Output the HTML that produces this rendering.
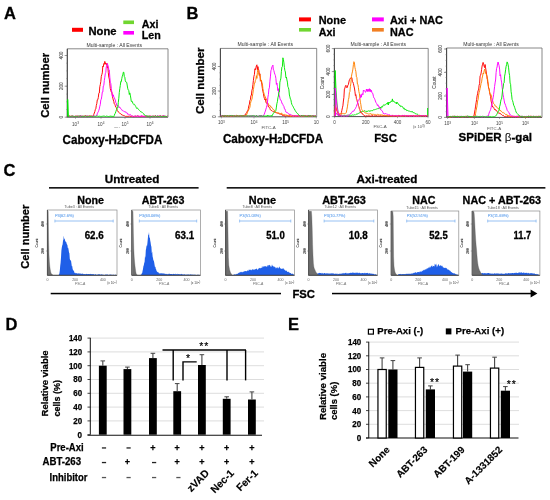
<!DOCTYPE html>
<html><head><meta charset="utf-8"><style>
html,body{margin:0;padding:0;background:#fff;width:550px;height:500px;overflow:hidden}
svg{display:block;filter:blur(0.3px)}
text{font-family:"Liberation Sans", sans-serif}
</style></head><body>
<svg width="550" height="500" viewBox="0 0 550 500">
<rect width="550" height="500" fill="#fff"/>
<text x="4.0" y="18.8" font-size="16.5" font-weight="bold" text-anchor="start" fill="#000" stroke="#000" stroke-width="0.3" >A</text>
<text x="186.5" y="19" font-size="16.5" font-weight="bold" text-anchor="start" fill="#000" stroke="#000" stroke-width="0.3" >B</text>
<text x="3.5" y="176" font-size="16.5" font-weight="bold" text-anchor="start" fill="#000" stroke="#000" stroke-width="0.3" >C</text>
<text x="5.5" y="329.5" font-size="16.5" font-weight="bold" text-anchor="start" fill="#000" stroke="#000" stroke-width="0.3" >D</text>
<text x="288" y="329.5" font-size="16.5" font-weight="bold" text-anchor="start" fill="#000" stroke="#000" stroke-width="0.3" >E</text>
<rect x="72" y="27.8" width="11" height="4" fill="#ff0000"/>
<text x="88.5" y="34.5" font-size="11.4" font-weight="bold" text-anchor="start" fill="#000" stroke="#000" stroke-width="0.3" textLength="28" lengthAdjust="spacingAndGlyphs" >None</text>
<rect x="123.3" y="20.5" width="10.7" height="3.6" fill="#70d630"/>
<text x="141.8" y="28.2" font-size="11.4" font-weight="bold" text-anchor="start" fill="#000" stroke="#000" stroke-width="0.3" textLength="16.7" lengthAdjust="spacingAndGlyphs" >Axi</text>
<rect x="123.3" y="31" width="10.7" height="3.6" fill="#ff00ff"/>
<text x="141.8" y="39" font-size="11.4" font-weight="bold" text-anchor="start" fill="#000" stroke="#000" stroke-width="0.3" textLength="19" lengthAdjust="spacingAndGlyphs" >Len</text>
<text x="114.2" y="46.5" font-size="5.1" font-weight="normal" text-anchor="middle" fill="#333">Multi-sample : All Events</text>
<polyline points="67.3,117.2 67.3,48.8 168,48.8 168,117.2" fill="none" stroke="#6a6a6a" stroke-width="0.8"/>
<polyline points="67.3,48.8 67.3,117.2 168,117.2" fill="none" stroke="#3a3a3a" stroke-width="0.9"/>
<line x1="64.7" y1="55.5" x2="67.3" y2="55.5" stroke="#555" stroke-width="0.6"/>
<text transform="translate(63.099999999999994,55.5) rotate(-90)" font-size="4.6" text-anchor="middle" fill="#555" stroke="#555" stroke-width="0.12">400</text>
<line x1="64.7" y1="86.2" x2="67.3" y2="86.2" stroke="#555" stroke-width="0.6"/>
<text transform="translate(63.099999999999994,86.2) rotate(-90)" font-size="4.6" text-anchor="middle" fill="#555" stroke="#555" stroke-width="0.12">200</text>
<line x1="64.7" y1="117.2" x2="67.3" y2="117.2" stroke="#555" stroke-width="0.6"/>
<text transform="translate(63.099999999999994,117.2) rotate(-90)" font-size="4.6" text-anchor="middle" fill="#555" stroke="#555" stroke-width="0.12">0</text>
<line x1="66.0" y1="117.2" x2="67.3" y2="117.2" stroke="#777" stroke-width="0.4"/>
<line x1="66.0" y1="109.5" x2="67.3" y2="109.5" stroke="#777" stroke-width="0.4"/>
<line x1="66.0" y1="101.8" x2="67.3" y2="101.8" stroke="#777" stroke-width="0.4"/>
<line x1="66.0" y1="94.1" x2="67.3" y2="94.1" stroke="#777" stroke-width="0.4"/>
<line x1="66.0" y1="86.3" x2="67.3" y2="86.3" stroke="#777" stroke-width="0.4"/>
<line x1="66.0" y1="78.6" x2="67.3" y2="78.6" stroke="#777" stroke-width="0.4"/>
<line x1="66.0" y1="70.9" x2="67.3" y2="70.9" stroke="#777" stroke-width="0.4"/>
<line x1="66.0" y1="63.2" x2="67.3" y2="63.2" stroke="#777" stroke-width="0.4"/>
<line x1="66.0" y1="55.5" x2="67.3" y2="55.5" stroke="#777" stroke-width="0.4"/>
<line x1="75.5" y1="117.2" x2="75.5" y2="118.8" stroke="#666" stroke-width="0.5"/>
<text x="75.5" y="125.6" font-size="4.6" font-weight="normal" text-anchor="middle" fill="#444">10<tspan font-size="3.2" dy="-1.5">3</tspan></text>
<line x1="101" y1="117.2" x2="101" y2="118.8" stroke="#666" stroke-width="0.5"/>
<text x="101" y="125.6" font-size="4.6" font-weight="normal" text-anchor="middle" fill="#444">10<tspan font-size="3.2" dy="-1.5">4</tspan></text>
<line x1="125" y1="117.2" x2="125" y2="118.8" stroke="#666" stroke-width="0.5"/>
<text x="125" y="125.6" font-size="4.6" font-weight="normal" text-anchor="middle" fill="#444">10<tspan font-size="3.2" dy="-1.5">5</tspan></text>
<line x1="150" y1="117.2" x2="150" y2="118.8" stroke="#666" stroke-width="0.5"/>
<text x="150" y="125.6" font-size="4.6" font-weight="normal" text-anchor="middle" fill="#444">10<tspan font-size="3.2" dy="-1.5">6</tspan></text>
<text x="117" y="127.6" font-size="2.8" font-weight="normal" text-anchor="middle" fill="#999">▪▪▪▪ ▪</text>
<text transform="translate(48.8,117.8) rotate(-90)" font-size="11.0" font-weight="bold" text-anchor="start" fill="#000" stroke="#000" stroke-width="0.3" textLength="64.8" lengthAdjust="spacingAndGlyphs">Cell number</text>
<text x="62.6" y="143.5" font-size="12" font-weight="bold" text-anchor="start" fill="#000" stroke="#000" stroke-width="0.3" textLength="99.8" lengthAdjust="spacingAndGlyphs" >Caboxy-H<tspan font-size="8.8">2</tspan>DCFDA</text>
<polyline points="67.8,116.6 68.3,116.4 68.8,116.3 69.3,115.8 69.8,116.2 70.3,116.2 70.8,116.3 71.3,116.1 71.8,116.3 72.3,116.2 72.8,115.9 73.3,116.6 73.8,116.6 74.3,116.6 74.8,116.3 75.3,116.2 75.8,116.1 76.3,115.9 76.8,116.6 77.3,116.0 77.8,116.0 78.3,116.2 78.8,116.6 79.3,116.4 79.8,116.0 80.3,116.1 80.8,116.5 81.3,116.3 81.8,116.1 82.3,116.2 82.8,116.5 83.3,116.6 83.8,115.9 84.3,116.1 84.8,116.1 85.3,115.6 85.8,116.0 86.3,116.0 86.8,116.6 87.3,116.3 87.8,115.8 88.3,116.5 88.8,116.2 89.3,115.8 89.8,116.1 90.3,116.1 90.8,116.1 91.3,116.3 91.8,115.7 92.3,116.2 92.8,116.6 93.3,115.7 93.8,114.4 94.3,113.0 94.8,111.7 95.3,109.6 95.8,108.9 96.3,105.5 96.8,103.5 97.3,99.8 97.8,99.7 98.3,97.5 98.8,93.3 99.3,93.0 99.8,86.7 100.3,84.6 100.8,81.5 101.3,76.4 101.8,74.7 102.3,72.9 102.8,66.1 103.3,66.8 103.8,63.6 104.3,64.3 104.8,61.4 105.3,63.0 105.8,64.3 106.3,64.7 106.8,63.3 107.3,67.5 107.8,66.6 108.3,72.7 108.8,77.2 109.3,79.0 109.8,83.8 110.3,88.6 110.8,90.6 111.3,92.0 111.8,91.7 112.3,95.8 112.8,98.1 113.3,100.0 113.8,101.6 114.3,103.9 114.8,104.4 115.3,105.7 115.8,107.2 116.3,107.6 116.8,108.9 117.3,110.8 117.8,111.4 118.3,111.5 118.8,112.3 119.3,112.9 119.8,113.5 120.3,113.6 120.8,113.8 121.3,114.2 121.8,115.0 122.3,115.2 122.8,115.1 123.3,115.4 123.8,115.5 124.3,116.0 124.8,115.7 125.3,116.2 125.8,116.5 126.3,116.4 126.8,116.1 127.3,116.6 127.8,116.1 128.3,116.4 128.8,116.1 129.3,115.8 129.8,116.4 130.3,116.4 130.8,116.3 131.3,116.4 131.8,116.1 132.3,116.1 132.8,116.3 133.3,116.6 133.8,116.5 134.3,116.2 134.8,116.5 135.3,116.2 135.8,116.2 136.3,116.5 136.8,116.1 137.3,115.8 137.8,116.0 138.3,116.3 138.8,116.3 139.3,116.6 139.8,116.1 140.3,116.5 140.8,116.4 141.3,116.3 141.8,116.5 142.3,116.4 142.8,116.1 143.3,116.6 143.8,116.0 144.3,116.3 144.8,116.3 145.3,116.4 145.8,116.1 146.3,116.3 146.8,116.3 147.3,116.6 147.8,116.1 148.3,116.3 148.8,116.2 149.3,115.9 149.8,116.6 150.3,116.3 150.8,115.9 151.3,116.6 151.8,116.0 152.3,116.4 152.8,116.5 153.3,116.1 153.8,116.2 154.3,116.1 154.8,116.3 155.3,115.8 155.8,115.9 156.3,116.3 156.8,116.6 157.3,116.5 157.8,116.6 158.3,116.5 158.8,116.2 159.3,116.3 159.8,115.7 160.3,116.0 160.8,116.0 161.3,116.4 161.8,116.5 162.3,116.1 162.8,116.1 163.3,115.9 163.8,116.3 164.3,116.4 164.8,116.4 165.3,116.1 165.8,116.6 166.3,116.6 166.8,116.3 167.3,116.1" fill="none" stroke="#ff0000" stroke-width="0.95" stroke-linejoin="round"/>
<polyline points="67.8,116.2 68.3,116.3 68.8,116.3 69.3,116.4 69.8,116.5 70.3,116.6 70.8,116.6 71.3,116.3 71.8,116.4 72.3,116.2 72.8,116.1 73.3,116.6 73.8,116.2 74.3,116.6 74.8,116.2 75.3,116.4 75.8,116.6 76.3,116.3 76.8,116.4 77.3,116.2 77.8,116.2 78.3,116.3 78.8,116.1 79.3,116.6 79.8,116.3 80.3,116.6 80.8,115.5 81.3,116.3 81.8,116.5 82.3,116.2 82.8,116.6 83.3,116.5 83.8,116.2 84.3,116.4 84.8,116.6 85.3,116.4 85.8,116.4 86.3,116.2 86.8,116.3 87.3,115.9 87.8,116.2 88.3,116.6 88.8,116.6 89.3,116.5 89.8,116.6 90.3,116.6 90.8,116.5 91.3,116.6 91.8,116.6 92.3,116.3 92.8,116.6 93.3,115.6 93.8,116.1 94.3,116.4 94.8,116.0 95.3,116.3 95.8,116.1 96.3,115.5 96.8,115.4 97.3,113.7 97.8,112.5 98.3,111.8 98.8,110.3 99.3,108.9 99.8,106.2 100.3,104.6 100.8,99.9 101.3,99.2 101.8,96.1 102.3,92.1 102.8,92.0 103.3,85.9 103.8,85.6 104.3,80.6 104.8,77.3 105.3,73.7 105.8,72.4 106.3,66.5 106.8,66.7 107.3,63.4 107.8,65.0 108.3,66.7 108.8,69.8 109.3,70.0 109.8,77.1 110.3,82.3 110.8,83.5 111.3,88.3 111.8,92.6 112.3,95.0 112.8,96.9 113.3,94.8 113.8,96.8 114.3,97.7 114.8,99.0 115.3,100.0 115.8,102.8 116.3,103.1 116.8,105.7 117.3,105.8 117.8,105.2 118.3,105.8 118.8,106.5 119.3,108.0 119.8,107.4 120.3,107.7 120.8,108.8 121.3,109.4 121.8,109.6 122.3,110.7 122.8,110.6 123.3,111.0 123.8,111.0 124.3,111.5 124.8,111.8 125.3,111.6 125.8,112.6 126.3,112.4 126.8,113.2 127.3,113.1 127.8,114.4 128.3,114.2 128.8,114.6 129.3,114.9 129.8,114.4 130.3,114.4 130.8,115.2 131.3,115.8 131.8,115.8 132.3,116.2 132.8,116.5 133.3,115.9 133.8,116.4 134.3,116.6 134.8,116.1 135.3,115.7 135.8,116.2 136.3,116.2 136.8,116.4 137.3,116.0 137.8,116.3 138.3,115.7 138.8,116.5 139.3,116.6 139.8,116.6 140.3,115.9 140.8,116.4 141.3,115.4 141.8,116.4 142.3,116.3 142.8,116.0 143.3,116.4 143.8,116.3 144.3,116.6 144.8,116.3 145.3,116.4 145.8,115.7 146.3,116.0 146.8,116.2 147.3,116.4 147.8,116.3 148.3,116.6 148.8,116.1 149.3,116.2 149.8,116.4 150.3,116.2 150.8,116.4 151.3,116.1 151.8,116.6 152.3,116.2 152.8,116.6 153.3,116.3 153.8,116.6 154.3,115.9 154.8,116.4 155.3,116.2 155.8,116.4 156.3,116.6 156.8,116.0 157.3,115.9 157.8,116.0 158.3,116.4 158.8,115.8 159.3,116.3 159.8,115.9 160.3,116.0 160.8,116.2 161.3,116.4 161.8,116.1 162.3,116.2 162.8,116.3 163.3,116.2 163.8,115.5 164.3,116.2 164.8,116.3 165.3,116.6 165.8,116.6 166.3,116.5 166.8,116.3 167.3,116.0" fill="none" stroke="#ff00ff" stroke-width="0.95" stroke-linejoin="round"/>
<polyline points="67.7,116.3 67.7,99.4 68.4,116.3" fill="none" stroke="#00e800" stroke-width="0.95"/>
<polyline points="67.8,116.3 68.3,116.5 68.8,116.6 69.3,116.0 69.8,116.4 70.3,116.5 70.8,116.6 71.3,116.4 71.8,116.1 72.3,116.1 72.8,116.2 73.3,116.1 73.8,116.5 74.3,116.6 74.8,116.5 75.3,116.6 75.8,116.2 76.3,116.4 76.8,116.2 77.3,116.3 77.8,116.6 78.3,116.3 78.8,115.8 79.3,116.2 79.8,116.1 80.3,115.9 80.8,116.1 81.3,116.6 81.8,116.6 82.3,116.2 82.8,116.6 83.3,116.6 83.8,116.0 84.3,116.3 84.8,116.3 85.3,116.3 85.8,115.8 86.3,116.2 86.8,116.6 87.3,116.6 87.8,116.6 88.3,116.2 88.8,116.6 89.3,116.5 89.8,115.9 90.3,116.5 90.8,116.2 91.3,116.4 91.8,116.3 92.3,116.6 92.8,116.4 93.3,116.2 93.8,116.6 94.3,116.4 94.8,116.2 95.3,116.6 95.8,116.2 96.3,116.1 96.8,116.1 97.3,115.9 97.8,116.1 98.3,116.6 98.8,116.0 99.3,116.3 99.8,116.0 100.3,116.1 100.8,116.6 101.3,116.6 101.8,116.1 102.3,116.3 102.8,116.1 103.3,116.1 103.8,116.0 104.3,116.0 104.8,116.4 105.3,116.5 105.8,116.4 106.3,116.3 106.8,115.9 107.3,116.3 107.8,116.0 108.3,116.6 108.8,116.5 109.3,116.5 109.8,116.2 110.3,115.8 110.8,116.6 111.3,116.6 111.8,115.9 112.3,116.3 112.8,116.6 113.3,116.0 113.8,116.6 114.3,115.4 114.8,113.9 115.3,113.3 115.8,111.7 116.3,110.2 116.8,109.4 117.3,106.9 117.8,107.4 118.3,102.4 118.8,98.3 119.3,92.5 119.8,88.6 120.3,85.4 120.8,81.4 121.3,81.7 121.8,78.5 122.3,76.2 122.8,75.0 123.3,72.2 123.8,72.2 124.3,76.5 124.8,77.1 125.3,80.8 125.8,81.9 126.3,82.0 126.8,82.8 127.3,86.0 127.8,88.8 128.3,90.1 128.8,90.6 129.3,94.5 129.8,92.9 130.3,95.1 130.8,98.1 131.3,101.5 131.8,101.5 132.3,101.4 132.8,103.2 133.3,103.8 133.8,104.6 134.3,104.3 134.8,104.7 135.3,105.8 135.8,106.6 136.3,107.7 136.8,108.5 137.3,107.8 137.8,108.6 138.3,109.3 138.8,109.6 139.3,110.3 139.8,110.8 140.3,111.2 140.8,111.9 141.3,112.0 141.8,112.2 142.3,112.5 142.8,113.1 143.3,113.5 143.8,113.8 144.3,114.9 144.8,115.3 145.3,115.5 145.8,115.9 146.3,115.8 146.8,116.0 147.3,116.6 147.8,115.7 148.3,116.3 148.8,116.5 149.3,116.3 149.8,116.2 150.3,116.5 150.8,116.0 151.3,116.5 151.8,116.6 152.3,116.0 152.8,116.1 153.3,116.3 153.8,116.6 154.3,116.6 154.8,116.5 155.3,116.1 155.8,116.0 156.3,116.4 156.8,116.4 157.3,116.0 157.8,116.3 158.3,116.4 158.8,116.6 159.3,116.0 159.8,116.5 160.3,116.0 160.8,116.2 161.3,116.3 161.8,116.6 162.3,116.6 162.8,116.4 163.3,116.4 163.8,116.6 164.3,115.9 164.8,116.5 165.3,115.9 165.8,116.6 166.3,116.6 166.8,116.4 167.3,116.1" fill="none" stroke="#00e800" stroke-width="0.95" stroke-linejoin="round"/>
<rect x="299" y="17.4" width="12" height="4" fill="#ff0000"/>
<text x="318.7" y="24" font-size="11.4" font-weight="bold" text-anchor="start" fill="#000" stroke="#000" stroke-width="0.3" textLength="27.3" lengthAdjust="spacingAndGlyphs" >None</text>
<rect x="299" y="28" width="12" height="3.6" fill="#70d630"/>
<text x="318.7" y="36.4" font-size="11.4" font-weight="bold" text-anchor="start" fill="#000" stroke="#000" stroke-width="0.3" textLength="16.7" lengthAdjust="spacingAndGlyphs" >Axi</text>
<rect x="372" y="17.4" width="11.8" height="4" fill="#ff00ff"/>
<text x="390" y="24" font-size="11.4" font-weight="bold" text-anchor="start" fill="#000" stroke="#000" stroke-width="0.3" textLength="53" lengthAdjust="spacingAndGlyphs" >Axi + NAC</text>
<rect x="372" y="28" width="11.8" height="3.6" fill="#f27f22"/>
<text x="390" y="36.4" font-size="11.4" font-weight="bold" text-anchor="start" fill="#000" stroke="#000" stroke-width="0.3" textLength="23.5" lengthAdjust="spacingAndGlyphs" >NAC</text>
<text transform="translate(203.9,114.1) rotate(-90)" font-size="11.2" font-weight="bold" text-anchor="start" fill="#000" stroke="#000" stroke-width="0.3" textLength="66.5" lengthAdjust="spacingAndGlyphs">Cell number</text>
<text x="222.9" y="143.4" font-size="12" font-weight="bold" text-anchor="start" fill="#000" stroke="#000" stroke-width="0.3" textLength="100.2" lengthAdjust="spacingAndGlyphs" >Caboxy-H<tspan font-size="8.8">2</tspan>DCFDA</text>
<text x="374.2" y="141.9" font-size="11.6" font-weight="bold" text-anchor="start" fill="#000" stroke="#000" stroke-width="0.3" textLength="22.6" lengthAdjust="spacingAndGlyphs" >FSC</text>
<text x="458.6" y="141.0" font-size="11.4" font-weight="bold" text-anchor="start" fill="#000" stroke="#000" stroke-width="0.3" textLength="73.5" lengthAdjust="spacingAndGlyphs" >SPiDER <tspan font-weight="normal" stroke-width="0">β</tspan>-gal</text>
<text x="265.3" y="46.1" font-size="5.1" font-weight="normal" text-anchor="middle" fill="#333">Multi-sample : All Events</text>
<polyline points="220.4,116.8 220.4,48.4 316.7,48.4 316.7,116.8" fill="none" stroke="#6a6a6a" stroke-width="0.8"/>
<polyline points="220.4,48.4 220.4,116.8 316.7,116.8" fill="none" stroke="#3a3a3a" stroke-width="0.9"/>
<line x1="217.8" y1="66.5" x2="220.4" y2="66.5" stroke="#555" stroke-width="0.6"/>
<text transform="translate(216.20000000000002,66.5) rotate(-90)" font-size="4.6" text-anchor="middle" fill="#555" stroke="#555" stroke-width="0.12">400</text>
<line x1="217.8" y1="91" x2="220.4" y2="91" stroke="#555" stroke-width="0.6"/>
<text transform="translate(216.20000000000002,91) rotate(-90)" font-size="4.6" text-anchor="middle" fill="#555" stroke="#555" stroke-width="0.12">200</text>
<line x1="217.8" y1="116.8" x2="220.4" y2="116.8" stroke="#555" stroke-width="0.6"/>
<text transform="translate(216.20000000000002,116.8) rotate(-90)" font-size="4.6" text-anchor="middle" fill="#555" stroke="#555" stroke-width="0.12">0</text>
<line x1="219.1" y1="116.8" x2="220.4" y2="116.8" stroke="#777" stroke-width="0.4"/>
<line x1="219.1" y1="110.5" x2="220.4" y2="110.5" stroke="#777" stroke-width="0.4"/>
<line x1="219.1" y1="104.2" x2="220.4" y2="104.2" stroke="#777" stroke-width="0.4"/>
<line x1="219.1" y1="97.9" x2="220.4" y2="97.9" stroke="#777" stroke-width="0.4"/>
<line x1="219.1" y1="91.7" x2="220.4" y2="91.7" stroke="#777" stroke-width="0.4"/>
<line x1="219.1" y1="85.4" x2="220.4" y2="85.4" stroke="#777" stroke-width="0.4"/>
<line x1="219.1" y1="79.1" x2="220.4" y2="79.1" stroke="#777" stroke-width="0.4"/>
<line x1="219.1" y1="72.8" x2="220.4" y2="72.8" stroke="#777" stroke-width="0.4"/>
<line x1="219.1" y1="66.5" x2="220.4" y2="66.5" stroke="#777" stroke-width="0.4"/>
<line x1="221.4" y1="116.8" x2="221.4" y2="118.39999999999999" stroke="#666" stroke-width="0.5"/>
<text x="221.4" y="124.0" font-size="4.6" font-weight="normal" text-anchor="middle" fill="#444">10<tspan font-size="3.2" dy="-1.5">3</tspan></text>
<line x1="254" y1="116.8" x2="254" y2="118.39999999999999" stroke="#666" stroke-width="0.5"/>
<text x="254" y="124.0" font-size="4.6" font-weight="normal" text-anchor="middle" fill="#444">10<tspan font-size="3.2" dy="-1.5">4</tspan></text>
<line x1="285.7" y1="116.8" x2="285.7" y2="118.39999999999999" stroke="#666" stroke-width="0.5"/>
<text x="285.7" y="124.0" font-size="4.6" font-weight="normal" text-anchor="middle" fill="#444">10<tspan font-size="3.2" dy="-1.5">5</tspan></text>
<line x1="316.3" y1="116.8" x2="316.3" y2="118.39999999999999" stroke="#666" stroke-width="0.5"/>
<text x="316.3" y="124.0" font-size="4.6" font-weight="normal" text-anchor="middle" fill="#444">10</text>
<text x="268.6" y="128.6" font-size="4.4" font-weight="normal" text-anchor="middle" fill="#555">FITC-A</text>
<polyline points="220.9,116.3 221.4,116.1 221.9,116.0 222.4,116.2 222.9,115.5 223.4,116.1 223.9,116.3 224.4,116.1 224.9,116.0 225.4,115.7 225.9,116.2 226.4,116.1 226.9,116.0 227.4,115.8 227.9,116.2 228.4,116.3 228.9,116.1 229.4,116.3 229.9,116.3 230.4,116.3 230.9,116.1 231.4,115.9 231.9,115.9 232.4,116.0 232.9,116.2 233.4,116.3 233.9,115.9 234.4,116.0 234.9,115.7 235.4,116.3 235.9,115.9 236.4,116.1 236.9,115.8 237.4,115.9 237.9,115.8 238.4,116.3 238.9,116.1 239.4,116.0 239.9,115.7 240.4,115.8 240.9,116.2 241.4,116.3 241.9,115.6 242.4,115.7 242.9,115.9 243.4,115.8 243.9,115.5 244.4,116.0 244.9,115.5 245.4,114.0 245.9,113.7 246.4,113.0 246.9,112.2 247.4,110.9 247.9,110.9 248.4,108.4 248.9,105.5 249.4,104.2 249.9,100.5 250.4,99.8 250.9,95.5 251.4,95.3 251.9,90.3 252.4,88.8 252.9,84.6 253.4,80.5 253.9,76.3 254.4,74.6 254.9,68.8 255.4,69.7 255.9,67.7 256.4,65.8 256.9,64.8 257.4,69.9 257.9,66.6 258.4,68.8 258.9,70.6 259.4,75.4 259.9,73.8 260.4,81.2 260.9,80.5 261.4,80.9 261.9,84.9 262.4,88.5 262.9,91.4 263.4,93.5 263.9,96.8 264.4,98.4 264.9,99.9 265.4,99.1 265.9,102.0 266.4,103.3 266.9,103.1 267.4,103.2 267.9,104.4 268.4,106.9 268.9,106.6 269.4,107.5 269.9,108.4 270.4,109.8 270.9,110.3 271.4,110.5 271.9,110.5 272.4,111.1 272.9,111.6 273.4,111.5 273.9,112.0 274.4,112.0 274.9,112.1 275.4,112.3 275.9,112.5 276.4,113.0 276.9,113.0 277.4,112.9 277.9,113.3 278.4,113.4 278.9,113.8 279.4,113.9 279.9,114.2 280.4,113.8 280.9,114.5 281.4,115.0 281.9,114.4 282.4,115.5 282.9,115.3 283.4,115.3 283.9,115.1 284.4,116.1 284.9,115.7 285.4,115.9 285.9,116.2 286.4,115.7 286.9,115.7 287.4,115.7 287.9,116.0 288.4,116.2 288.9,116.1 289.4,116.1 289.9,115.9 290.4,116.0 290.9,115.8 291.4,116.3 291.9,116.1 292.4,115.4 292.9,115.7 293.4,116.3 293.9,115.6 294.4,115.9 294.9,116.1 295.4,115.7 295.9,116.3 296.4,116.3 296.9,115.8 297.4,116.3 297.9,115.7 298.4,115.7 298.9,116.1 299.4,116.1 299.9,115.8 300.4,116.2 300.9,115.6 301.4,115.8 301.9,115.7 302.4,116.2 302.9,116.2 303.4,116.2 303.9,115.6 304.4,116.0 304.9,116.1 305.4,115.5 305.9,115.8 306.4,116.2 306.9,116.2 307.4,116.1 307.9,116.2 308.4,116.1 308.9,116.0 309.4,116.0 309.9,115.8 310.4,115.9 310.9,115.9 311.4,116.3 311.9,116.1 312.4,116.0 312.9,115.9 313.4,116.0 313.9,115.9 314.4,116.2 314.9,116.0 315.4,116.2 315.9,115.8" fill="none" stroke="#ff0000" stroke-width="0.95" stroke-linejoin="round"/>
<polyline points="220.9,116.1 221.4,116.3 221.9,115.7 222.4,116.0 222.9,116.1 223.4,115.9 223.9,115.9 224.4,115.5 224.9,116.3 225.4,115.7 225.9,115.6 226.4,116.2 226.9,115.5 227.4,116.3 227.9,116.1 228.4,116.2 228.9,116.0 229.4,115.7 229.9,115.5 230.4,116.3 230.9,115.9 231.4,115.9 231.9,116.3 232.4,115.8 232.9,115.9 233.4,115.9 233.9,116.0 234.4,115.7 234.9,115.8 235.4,116.3 235.9,116.2 236.4,115.1 236.9,115.4 237.4,116.1 237.9,116.0 238.4,115.9 238.9,116.3 239.4,115.5 239.9,116.3 240.4,116.0 240.9,116.2 241.4,116.1 241.9,116.2 242.4,115.9 242.9,115.8 243.4,116.2 243.9,116.1 244.4,115.6 244.9,116.3 245.4,116.3 245.9,116.3 246.4,115.1 246.9,114.0 247.4,112.7 247.9,111.4 248.4,110.5 248.9,109.4 249.4,108.0 249.9,107.3 250.4,103.4 250.9,101.8 251.4,99.9 251.9,99.6 252.4,96.1 252.9,93.3 253.4,89.5 253.9,86.7 254.4,83.0 254.9,83.1 255.4,80.2 255.9,79.3 256.4,75.7 256.9,78.4 257.4,72.4 257.9,69.6 258.4,72.4 258.9,74.0 259.4,75.8 259.9,74.5 260.4,77.6 260.9,81.1 261.4,80.1 261.9,82.6 262.4,83.7 262.9,88.5 263.4,91.6 263.9,93.1 264.4,94.7 264.9,96.7 265.4,96.8 265.9,99.1 266.4,98.9 266.9,100.6 267.4,102.9 267.9,102.9 268.4,104.4 268.9,105.4 269.4,105.3 269.9,105.3 270.4,105.8 270.9,107.4 271.4,107.0 271.9,107.9 272.4,108.3 272.9,109.0 273.4,109.9 273.9,109.9 274.4,110.2 274.9,111.6 275.4,111.8 275.9,112.4 276.4,112.4 276.9,112.7 277.4,113.0 277.9,113.2 278.4,112.8 278.9,112.9 279.4,113.3 279.9,113.4 280.4,113.6 280.9,113.4 281.4,113.0 281.9,114.0 282.4,114.2 282.9,114.3 283.4,114.7 283.9,114.6 284.4,114.4 284.9,114.9 285.4,114.7 285.9,115.3 286.4,115.1 286.9,115.3 287.4,115.4 287.9,115.5 288.4,115.1 288.9,115.7 289.4,115.2 289.9,116.1 290.4,116.3 290.9,116.3 291.4,116.1 291.9,115.8 292.4,115.5 292.9,116.3 293.4,115.6 293.9,116.3 294.4,115.3 294.9,116.0 295.4,116.2 295.9,116.1 296.4,116.0 296.9,115.8 297.4,115.7 297.9,116.3 298.4,116.1 298.9,116.0 299.4,116.1 299.9,115.7 300.4,116.3 300.9,116.3 301.4,115.8 301.9,116.0 302.4,116.3 302.9,115.8 303.4,116.3 303.9,116.3 304.4,115.9 304.9,116.3 305.4,116.3 305.9,115.6 306.4,116.2 306.9,116.0 307.4,115.9 307.9,116.2 308.4,115.9 308.9,115.6 309.4,115.6 309.9,116.0 310.4,116.2 310.9,116.0 311.4,116.0 311.9,116.0 312.4,116.3 312.9,116.2 313.4,115.8 313.9,115.9 314.4,116.3 314.9,115.8 315.4,115.9 315.9,116.0" fill="none" stroke="#ff8000" stroke-width="0.95" stroke-linejoin="round"/>
<polyline points="220.9,115.7 221.4,116.3 221.9,115.4 222.4,116.3 222.9,115.9 223.4,115.6 223.9,116.1 224.4,115.5 224.9,116.2 225.4,116.2 225.9,115.8 226.4,115.9 226.9,116.3 227.4,115.8 227.9,116.0 228.4,116.1 228.9,116.3 229.4,115.9 229.9,116.0 230.4,116.3 230.9,115.3 231.4,115.9 231.9,115.5 232.4,115.5 232.9,116.3 233.4,116.1 233.9,116.3 234.4,115.9 234.9,116.2 235.4,115.9 235.9,115.8 236.4,116.0 236.9,116.0 237.4,116.3 237.9,115.9 238.4,116.1 238.9,115.9 239.4,116.0 239.9,115.6 240.4,116.3 240.9,115.9 241.4,116.0 241.9,115.9 242.4,116.3 242.9,116.1 243.4,116.0 243.9,116.1 244.4,116.1 244.9,116.2 245.4,116.1 245.9,116.3 246.4,116.3 246.9,116.2 247.4,115.6 247.9,116.3 248.4,116.3 248.9,115.9 249.4,115.9 249.9,115.4 250.4,116.2 250.9,115.7 251.4,116.3 251.9,115.3 252.4,116.0 252.9,116.2 253.4,115.9 253.9,115.8 254.4,116.1 254.9,115.8 255.4,115.9 255.9,116.0 256.4,115.8 256.9,115.9 257.4,116.2 257.9,115.9 258.4,116.0 258.9,115.8 259.4,116.3 259.9,115.6 260.4,116.3 260.9,115.1 261.4,115.7 261.9,115.5 262.4,116.3 262.9,116.1 263.4,115.6 263.9,114.8 264.4,114.0 264.9,112.2 265.4,111.1 265.9,109.1 266.4,107.7 266.9,105.4 267.4,103.1 267.9,97.1 268.4,94.6 268.9,89.0 269.4,87.8 269.9,81.3 270.4,76.9 270.9,70.8 271.4,69.4 271.9,66.9 272.4,66.2 272.9,65.1 273.4,70.1 273.9,70.6 274.4,72.9 274.9,74.3 275.4,75.6 275.9,78.5 276.4,84.4 276.9,83.0 277.4,86.3 277.9,90.6 278.4,88.7 278.9,94.2 279.4,95.4 279.9,98.2 280.4,99.9 280.9,100.1 281.4,101.2 281.9,103.0 282.4,104.0 282.9,104.3 283.4,105.8 283.9,106.4 284.4,108.7 284.9,108.8 285.4,110.4 285.9,112.0 286.4,112.5 286.9,112.5 287.4,112.6 287.9,113.0 288.4,113.7 288.9,113.8 289.4,114.0 289.9,115.0 290.4,114.3 290.9,114.7 291.4,115.0 291.9,115.4 292.4,115.7 292.9,115.9 293.4,116.2 293.9,116.1 294.4,115.9 294.9,115.3 295.4,116.2 295.9,115.7 296.4,115.8 296.9,115.9 297.4,115.6 297.9,115.8 298.4,116.0 298.9,115.9 299.4,116.1 299.9,115.7 300.4,115.9 300.9,115.7 301.4,115.9 301.9,116.1 302.4,115.9 302.9,115.6 303.4,115.9 303.9,116.0 304.4,116.3 304.9,116.0 305.4,115.9 305.9,115.6 306.4,116.3 306.9,115.7 307.4,115.7 307.9,115.9 308.4,115.5 308.9,116.3 309.4,116.0 309.9,116.1 310.4,115.7 310.9,115.8 311.4,116.2 311.9,116.2 312.4,116.3 312.9,116.3 313.4,115.4 313.9,116.0 314.4,115.9 314.9,116.3 315.4,116.0 315.9,116.1" fill="none" stroke="#ff00ff" stroke-width="0.95" stroke-linejoin="round"/>
<polyline points="220.9,115.9 221.4,116.2 221.9,116.3 222.4,115.8 222.9,115.4 223.4,115.7 223.9,116.3 224.4,116.0 224.9,115.9 225.4,115.7 225.9,116.3 226.4,116.1 226.9,116.0 227.4,115.8 227.9,115.9 228.4,115.9 228.9,116.1 229.4,116.3 229.9,115.4 230.4,115.6 230.9,116.0 231.4,116.0 231.9,115.5 232.4,115.8 232.9,115.9 233.4,115.9 233.9,115.9 234.4,116.0 234.9,116.2 235.4,116.2 235.9,116.2 236.4,116.1 236.9,115.8 237.4,115.8 237.9,116.2 238.4,116.0 238.9,116.2 239.4,116.1 239.9,116.0 240.4,116.1 240.9,115.5 241.4,115.9 241.9,115.8 242.4,116.2 242.9,115.8 243.4,116.1 243.9,115.9 244.4,116.1 244.9,116.2 245.4,115.9 245.9,116.0 246.4,116.0 246.9,116.2 247.4,115.9 247.9,116.0 248.4,115.9 248.9,115.7 249.4,116.0 249.9,116.1 250.4,115.7 250.9,116.3 251.4,115.8 251.9,116.2 252.4,116.1 252.9,115.5 253.4,116.0 253.9,115.5 254.4,115.9 254.9,116.2 255.4,116.3 255.9,116.2 256.4,115.5 256.9,115.9 257.4,116.3 257.9,116.0 258.4,116.3 258.9,115.8 259.4,115.8 259.9,115.6 260.4,115.9 260.9,116.3 261.4,115.7 261.9,116.2 262.4,116.1 262.9,116.2 263.4,115.9 263.9,116.0 264.4,116.3 264.9,115.6 265.4,116.2 265.9,116.3 266.4,116.1 266.9,116.3 267.4,115.1 267.9,115.9 268.4,115.6 268.9,115.9 269.4,115.9 269.9,116.1 270.4,115.7 270.9,116.2 271.4,115.5 271.9,116.2 272.4,115.3 272.9,114.1 273.4,113.4 273.9,112.6 274.4,112.1 274.9,111.7 275.4,111.2 275.9,110.4 276.4,107.1 276.9,103.5 277.4,101.7 277.9,97.8 278.4,96.0 278.9,92.2 279.4,92.0 279.9,82.1 280.4,80.4 280.9,78.1 281.4,71.3 281.9,67.1 282.4,66.5 282.9,57.8 283.4,59.6 283.9,62.8 284.4,67.5 284.9,70.6 285.4,72.0 285.9,77.6 286.4,77.0 286.9,79.9 287.4,82.1 287.9,86.7 288.4,87.7 288.9,89.8 289.4,95.0 289.9,96.9 290.4,99.1 290.9,99.8 291.4,102.7 291.9,104.5 292.4,105.4 292.9,106.2 293.4,107.2 293.9,108.5 294.4,108.8 294.9,110.1 295.4,110.8 295.9,111.7 296.4,112.3 296.9,113.1 297.4,113.5 297.9,113.7 298.4,114.5 298.9,114.9 299.4,115.5 299.9,115.8 300.4,116.3 300.9,116.1 301.4,115.7 301.9,115.6 302.4,115.6 302.9,116.1 303.4,115.8 303.9,115.9 304.4,116.0 304.9,116.3 305.4,116.3 305.9,116.0 306.4,116.3 306.9,116.2 307.4,116.3 307.9,115.9 308.4,115.6 308.9,116.1 309.4,116.3 309.9,115.5 310.4,116.0 310.9,116.1 311.4,116.2 311.9,115.7 312.4,115.8 312.9,116.3 313.4,116.3 313.9,116.0 314.4,116.3 314.9,116.0 315.4,116.1 315.9,115.9" fill="none" stroke="#00e800" stroke-width="0.95" stroke-linejoin="round"/>
<text x="378.2" y="46.1" font-size="5.1" font-weight="normal" text-anchor="middle" fill="#333">Multi-sample : All Events</text>
<polyline points="334.4,116.6 334.4,48.4 428.2,48.4 428.2,116.6" fill="none" stroke="#6a6a6a" stroke-width="0.8"/>
<polyline points="334.4,48.4 334.4,116.6 428.2,116.6" fill="none" stroke="#3a3a3a" stroke-width="0.9"/>
<line x1="331.79999999999995" y1="48.6" x2="334.4" y2="48.6" stroke="#555" stroke-width="0.6"/>
<text transform="translate(330.2,48.6) rotate(-90)" font-size="4.6" text-anchor="middle" fill="#555" stroke="#555" stroke-width="0.12">600</text>
<line x1="331.79999999999995" y1="71.6" x2="334.4" y2="71.6" stroke="#555" stroke-width="0.6"/>
<text transform="translate(330.2,71.6) rotate(-90)" font-size="4.6" text-anchor="middle" fill="#555" stroke="#555" stroke-width="0.12">400</text>
<line x1="331.79999999999995" y1="94.5" x2="334.4" y2="94.5" stroke="#555" stroke-width="0.6"/>
<text transform="translate(330.2,94.5) rotate(-90)" font-size="4.6" text-anchor="middle" fill="#555" stroke="#555" stroke-width="0.12">200</text>
<line x1="331.79999999999995" y1="116.6" x2="334.4" y2="116.6" stroke="#555" stroke-width="0.6"/>
<text transform="translate(330.2,116.6) rotate(-90)" font-size="4.6" text-anchor="middle" fill="#555" stroke="#555" stroke-width="0.12">0</text>
<line x1="333.09999999999997" y1="116.6" x2="334.4" y2="116.6" stroke="#777" stroke-width="0.4"/>
<line x1="333.09999999999997" y1="110.9" x2="334.4" y2="110.9" stroke="#777" stroke-width="0.4"/>
<line x1="333.09999999999997" y1="105.3" x2="334.4" y2="105.3" stroke="#777" stroke-width="0.4"/>
<line x1="333.09999999999997" y1="99.6" x2="334.4" y2="99.6" stroke="#777" stroke-width="0.4"/>
<line x1="333.09999999999997" y1="93.9" x2="334.4" y2="93.9" stroke="#777" stroke-width="0.4"/>
<line x1="333.09999999999997" y1="88.3" x2="334.4" y2="88.3" stroke="#777" stroke-width="0.4"/>
<line x1="333.09999999999997" y1="82.6" x2="334.4" y2="82.6" stroke="#777" stroke-width="0.4"/>
<line x1="333.09999999999997" y1="76.9" x2="334.4" y2="76.9" stroke="#777" stroke-width="0.4"/>
<line x1="333.09999999999997" y1="71.3" x2="334.4" y2="71.3" stroke="#777" stroke-width="0.4"/>
<line x1="333.09999999999997" y1="65.6" x2="334.4" y2="65.6" stroke="#777" stroke-width="0.4"/>
<line x1="333.09999999999997" y1="59.9" x2="334.4" y2="59.9" stroke="#777" stroke-width="0.4"/>
<line x1="333.09999999999997" y1="54.3" x2="334.4" y2="54.3" stroke="#777" stroke-width="0.4"/>
<line x1="333.09999999999997" y1="48.6" x2="334.4" y2="48.6" stroke="#777" stroke-width="0.4"/>
<line x1="334.6" y1="116.6" x2="334.6" y2="118.19999999999999" stroke="#666" stroke-width="0.5"/>
<text x="334.6" y="124" font-size="4.6" font-weight="normal" text-anchor="middle" fill="#444">0</text>
<line x1="365.8" y1="116.6" x2="365.8" y2="118.19999999999999" stroke="#666" stroke-width="0.5"/>
<text x="365.8" y="124" font-size="4.6" font-weight="normal" text-anchor="middle" fill="#444">200</text>
<line x1="397.5" y1="116.6" x2="397.5" y2="118.19999999999999" stroke="#666" stroke-width="0.5"/>
<text x="397.5" y="124" font-size="4.6" font-weight="normal" text-anchor="middle" fill="#444">400</text>
<line x1="428" y1="116.6" x2="428" y2="118.19999999999999" stroke="#666" stroke-width="0.5"/>
<text x="428" y="124" font-size="4.6" font-weight="normal" text-anchor="middle" fill="#444">60</text>
<text x="380" y="128.4" font-size="4.4" font-weight="normal" text-anchor="middle" fill="#555">FSC-A</text>
<text transform="translate(324.3,83) rotate(-90)" font-size="4.6" text-anchor="middle" fill="#555" stroke="#555" stroke-width="0.12">Count</text>
<text x="419" y="128.4" font-size="4.0" font-weight="normal" text-anchor="middle" fill="#555">(x 10<tspan font-size="3" dy="-1.4">3</tspan>)</text>
<polyline points="335.2,115.9 335.2,70.5 336,90 337,104 338.5,115.9" fill="none" stroke="#00e800" stroke-width="0.95"/>
<polyline points="334.9,115.8 335.4,112.2 335.9,112.9 336.4,113.7 336.9,114.0 337.4,114.6 337.9,114.7 338.4,115.5 338.9,114.9 339.4,115.5 339.9,115.8 340.4,115.3 340.9,116.0 341.4,115.8 341.9,115.5 342.4,115.7 342.9,115.2 343.4,115.4 343.9,115.5 344.4,115.1 344.9,115.9 345.4,115.3 345.9,115.8 346.4,115.4 346.9,115.5 347.4,115.2 347.9,115.3 348.4,115.2 348.9,115.4 349.4,115.7 349.9,115.1 350.4,115.2 350.9,115.3 351.4,115.4 351.9,115.1 352.4,115.0 352.9,114.9 353.4,115.1 353.9,115.1 354.4,114.8 354.9,114.9 355.4,115.0 355.9,114.5 356.4,114.1 356.9,114.3 357.4,114.0 357.9,113.7 358.4,113.5 358.9,112.9 359.4,112.9 359.9,112.6 360.4,112.3 360.9,111.5 361.4,111.8 361.9,111.7 362.4,111.6 362.9,111.4 363.4,111.4 363.9,110.9 364.4,110.9 364.9,110.5 365.4,111.2 365.9,111.7 366.4,111.7 366.9,110.9 367.4,111.3 367.9,111.5 368.4,111.0 368.9,110.5 369.4,111.4 369.9,110.9 370.4,110.8 370.9,111.2 371.4,110.7 371.9,110.7 372.4,110.8 372.9,110.1 373.4,109.7 373.9,110.1 374.4,109.7 374.9,109.8 375.4,109.5 375.9,109.0 376.4,109.1 376.9,108.8 377.4,108.7 377.9,108.6 378.4,108.6 378.9,108.4 379.4,107.7 379.9,108.3 380.4,107.1 380.9,108.4 381.4,106.7 381.9,106.7 382.4,107.1 382.9,106.0 383.4,105.1 383.9,104.6 384.4,105.3 384.9,105.0 385.4,104.9 385.9,104.3 386.4,103.5 386.9,103.8 387.4,104.1 387.9,102.3 388.4,105.0 388.9,102.0 389.4,102.9 389.9,103.0 390.4,102.0 390.9,101.3 391.4,101.3 391.9,101.7 392.4,98.9 392.9,101.6 393.4,101.2 393.9,101.2 394.4,102.1 394.9,102.4 395.4,102.9 395.9,102.5 396.4,103.9 396.9,102.0 397.4,103.1 397.9,103.2 398.4,104.4 398.9,104.4 399.4,105.4 399.9,105.0 400.4,106.5 400.9,106.6 401.4,106.3 401.9,106.1 402.4,106.8 402.9,107.0 403.4,108.6 403.9,108.7 404.4,108.3 404.9,109.8 405.4,109.5 405.9,109.2 406.4,110.5 406.9,110.7 407.4,110.5 407.9,110.4 408.4,111.2 408.9,110.8 409.4,111.1 409.9,111.4 410.4,111.6 410.9,111.5 411.4,111.5 411.9,112.2 412.4,111.5 412.9,112.4 413.4,112.5 413.9,112.9 414.4,112.9 414.9,113.3 415.4,113.7 415.9,113.5 416.4,114.0 416.9,114.4 417.4,114.2 417.9,114.5 418.4,115.5 418.9,115.6 419.4,115.4 419.9,116.1 420.4,116.0 420.9,116.2 421.4,116.2 421.9,115.2 422.4,115.8 422.9,116.2 423.4,116.2 423.9,115.7 424.4,115.5 424.9,116.0 425.4,115.7 425.9,115.9 426.4,115.6 426.9,116.1 427.4,116.1" fill="none" stroke="#00e800" stroke-width="0.95" stroke-linejoin="round"/>
<polyline points="427.6,115.9 427.6,108" fill="none" stroke="#00e800" stroke-width="0.95"/>
<polyline points="" fill="none" stroke="#00e800" stroke-width="0.95" stroke-linejoin="round"/>
<polyline points="334.9,116.0 335.4,106.9 335.9,107.8 336.4,109.1 336.9,110.8 337.4,111.2 337.9,113.0 338.4,113.9 338.9,113.8 339.4,114.5 339.9,115.3 340.4,115.8 340.9,114.8 341.4,112.5 341.9,110.3 342.4,107.8 342.9,105.8 343.4,101.0 343.9,97.4 344.4,89.1 344.9,88.1 345.4,86.1 345.9,85.3 346.4,86.6 346.9,87.8 347.4,87.1 347.9,85.1 348.4,84.5 348.9,82.0 349.4,79.9 349.9,79.2 350.4,78.1 350.9,78.0 351.4,77.6 351.9,77.7 352.4,81.7 352.9,82.0 353.4,83.6 353.9,85.9 354.4,88.0 354.9,91.2 355.4,95.5 355.9,94.7 356.4,98.6 356.9,99.8 357.4,102.2 357.9,103.0 358.4,105.5 358.9,106.6 359.4,108.8 359.9,109.7 360.4,112.2 360.9,112.7 361.4,112.5 361.9,113.6 362.4,113.5 362.9,114.6 363.4,114.7 363.9,115.4 364.4,115.7 364.9,115.6 365.4,116.2 365.9,116.2 366.4,115.6 366.9,116.1 367.4,116.1 367.9,115.7 368.4,115.6 368.9,116.2 369.4,115.8 369.9,116.2 370.4,116.2 370.9,116.1 371.4,115.7 371.9,116.2 372.4,115.5 372.9,115.7 373.4,116.2 373.9,115.7 374.4,116.0 374.9,115.6 375.4,115.9 375.9,116.0 376.4,115.2 376.9,115.7 377.4,116.1 377.9,116.2 378.4,116.0 378.9,115.7 379.4,116.0 379.9,115.8 380.4,115.7 380.9,115.9 381.4,116.2 381.9,115.7 382.4,116.2 382.9,116.0 383.4,115.5 383.9,115.7 384.4,115.9 384.9,115.8 385.4,116.0 385.9,115.6 386.4,115.6 386.9,116.2 387.4,115.9 387.9,115.7 388.4,115.9 388.9,116.2 389.4,115.8 389.9,115.5 390.4,116.2 390.9,116.2 391.4,116.2 391.9,115.5 392.4,115.3 392.9,116.2 393.4,115.9 393.9,116.1 394.4,115.9 394.9,116.2 395.4,115.9 395.9,115.8 396.4,116.0 396.9,115.6 397.4,116.0 397.9,115.9 398.4,115.3 398.9,115.6 399.4,115.5 399.9,115.5 400.4,116.0 400.9,116.2 401.4,116.0 401.9,115.5 402.4,115.4 402.9,116.1 403.4,115.8 403.9,115.9 404.4,115.5 404.9,115.3 405.4,116.2 405.9,115.7 406.4,115.8 406.9,115.6 407.4,116.2 407.9,115.8 408.4,115.9 408.9,115.9 409.4,115.9 409.9,116.2 410.4,115.4 410.9,116.1 411.4,115.7 411.9,115.8 412.4,115.7 412.9,116.0 413.4,115.5 413.9,115.7 414.4,116.1 414.9,115.7 415.4,115.8 415.9,116.0 416.4,115.9 416.9,115.8 417.4,115.9 417.9,115.6 418.4,116.1 418.9,115.6 419.4,115.4 419.9,116.0 420.4,115.5 420.9,115.6 421.4,115.8 421.9,116.1 422.4,115.7 422.9,115.8 423.4,115.8 423.9,116.0 424.4,115.7 424.9,116.0 425.4,116.2 425.9,115.8 426.4,115.8 426.9,115.6 427.4,115.7" fill="none" stroke="#ff0000" stroke-width="0.95" stroke-linejoin="round"/>
<polyline points="334.9,115.5 335.4,104.8 335.9,106.9 336.4,109.1 336.9,111.0 337.4,112.5 337.9,113.1 338.4,112.7 338.9,113.8 339.4,113.9 339.9,113.3 340.4,113.5 340.9,113.5 341.4,113.7 341.9,113.4 342.4,113.2 342.9,113.9 343.4,113.5 343.9,113.9 344.4,113.6 344.9,113.7 345.4,113.7 345.9,113.2 346.4,112.1 346.9,109.5 347.4,106.9 347.9,103.4 348.4,99.5 348.9,97.9 349.4,92.6 349.9,91.7 350.4,86.3 350.9,83.1 351.4,76.8 351.9,73.9 352.4,71.9 352.9,69.1 353.4,64.7 353.9,61.7 354.4,62.4 354.9,67.3 355.4,69.5 355.9,71.7 356.4,76.9 356.9,77.6 357.4,84.1 357.9,84.3 358.4,87.6 358.9,91.6 359.4,93.7 359.9,98.2 360.4,102.2 360.9,104.7 361.4,108.8 361.9,109.7 362.4,110.4 362.9,111.3 363.4,111.2 363.9,111.7 364.4,112.2 364.9,112.3 365.4,113.1 365.9,113.2 366.4,113.3 366.9,113.1 367.4,113.5 367.9,114.0 368.4,114.1 368.9,113.7 369.4,113.9 369.9,113.8 370.4,113.7 370.9,113.5 371.4,114.6 371.9,113.9 372.4,114.3 372.9,114.7 373.4,114.2 373.9,114.3 374.4,114.5 374.9,114.4 375.4,114.6 375.9,114.5 376.4,114.9 376.9,114.8 377.4,114.4 377.9,114.4 378.4,114.6 378.9,114.7 379.4,114.7 379.9,115.2 380.4,114.8 380.9,114.9 381.4,115.1 381.9,114.6 382.4,115.3 382.9,115.4 383.4,115.7 383.9,115.0 384.4,115.2 384.9,115.5 385.4,115.4 385.9,115.1 386.4,115.8 386.9,115.5 387.4,115.8 387.9,115.4 388.4,116.0 388.9,115.7 389.4,115.6 389.9,116.1 390.4,116.2 390.9,115.6 391.4,116.2 391.9,116.2 392.4,116.0 392.9,115.5 393.4,116.1 393.9,116.2 394.4,115.6 394.9,116.2 395.4,115.8 395.9,115.9 396.4,116.2 396.9,116.0 397.4,116.2 397.9,115.9 398.4,116.0 398.9,115.9 399.4,116.0 399.9,116.1 400.4,116.0 400.9,115.8 401.4,116.2 401.9,115.9 402.4,116.2 402.9,116.1 403.4,115.9 403.9,115.7 404.4,115.9 404.9,116.2 405.4,116.0 405.9,116.2 406.4,115.9 406.9,115.8 407.4,115.7 407.9,115.3 408.4,116.0 408.9,115.9 409.4,115.9 409.9,116.1 410.4,115.6 410.9,116.2 411.4,115.5 411.9,116.0 412.4,115.6 412.9,115.8 413.4,116.2 413.9,115.5 414.4,116.0 414.9,115.9 415.4,116.0 415.9,116.0 416.4,116.1 416.9,116.0 417.4,116.0 417.9,116.2 418.4,116.1 418.9,115.9 419.4,115.5 419.9,116.1 420.4,115.8 420.9,116.2 421.4,115.7 421.9,115.6 422.4,116.2 422.9,115.7 423.4,115.5 423.9,116.2 424.4,115.5 424.9,116.2 425.4,115.6 425.9,116.0 426.4,116.0 426.9,115.4 427.4,115.9" fill="none" stroke="#ff8000" stroke-width="0.95" stroke-linejoin="round"/>
<polyline points="335.3,115.9 335.3,88 336.3,100 337.5,110 339,115.9" fill="none" stroke="#ff00ff" stroke-width="0.95"/>
<polyline points="334.9,115.8 335.4,112.4 335.9,113.0 336.4,113.8 336.9,113.8 337.4,114.2 337.9,115.2 338.4,115.1 338.9,115.4 339.4,115.1 339.9,115.4 340.4,115.7 340.9,115.8 341.4,116.0 341.9,116.2 342.4,115.5 342.9,115.8 343.4,116.1 343.9,116.0 344.4,116.2 344.9,115.8 345.4,115.6 345.9,116.2 346.4,116.0 346.9,115.6 347.4,115.8 347.9,115.9 348.4,115.1 348.9,115.3 349.4,114.7 349.9,114.1 350.4,113.6 350.9,113.8 351.4,112.9 351.9,112.2 352.4,111.4 352.9,111.3 353.4,111.3 353.9,111.1 354.4,109.9 354.9,109.1 355.4,108.6 355.9,107.4 356.4,106.6 356.9,104.6 357.4,103.9 357.9,101.3 358.4,100.5 358.9,99.8 359.4,98.7 359.9,98.3 360.4,97.9 360.9,94.6 361.4,97.2 361.9,93.9 362.4,93.7 362.9,94.8 363.4,90.0 363.9,90.5 364.4,90.6 364.9,91.2 365.4,92.3 365.9,92.0 366.4,89.1 366.9,91.0 367.4,89.4 367.9,91.8 368.4,89.4 368.9,91.1 369.4,88.7 369.9,91.6 370.4,89.4 370.9,91.8 371.4,90.3 371.9,92.7 372.4,92.9 372.9,93.9 373.4,96.3 373.9,97.9 374.4,98.3 374.9,99.6 375.4,101.0 375.9,102.4 376.4,103.3 376.9,103.8 377.4,105.5 377.9,104.8 378.4,106.2 378.9,106.0 379.4,108.4 379.9,107.9 380.4,108.8 380.9,110.0 381.4,110.2 381.9,110.8 382.4,111.2 382.9,112.4 383.4,113.7 383.9,113.3 384.4,113.9 384.9,113.8 385.4,113.6 385.9,113.5 386.4,114.0 386.9,114.4 387.4,114.3 387.9,114.6 388.4,114.9 388.9,114.8 389.4,114.6 389.9,115.1 390.4,115.5 390.9,115.3 391.4,115.4 391.9,115.6 392.4,115.8 392.9,115.8 393.4,115.9 393.9,115.5 394.4,115.9 394.9,115.7 395.4,115.6 395.9,115.4 396.4,115.6 396.9,115.7 397.4,115.9 397.9,116.0 398.4,115.9 398.9,115.9 399.4,115.6 399.9,116.1 400.4,116.1 400.9,116.1 401.4,115.7 401.9,115.9 402.4,115.7 402.9,115.5 403.4,115.8 403.9,115.4 404.4,115.4 404.9,116.0 405.4,116.0 405.9,116.1 406.4,115.8 406.9,115.9 407.4,116.0 407.9,115.8 408.4,115.3 408.9,116.2 409.4,116.2 409.9,116.2 410.4,115.9 410.9,115.7 411.4,115.9 411.9,116.0 412.4,115.5 412.9,115.8 413.4,116.1 413.9,116.2 414.4,116.1 414.9,115.8 415.4,115.5 415.9,116.2 416.4,115.9 416.9,116.1 417.4,115.9 417.9,115.5 418.4,116.2 418.9,116.1 419.4,116.2 419.9,115.7 420.4,115.9 420.9,116.2 421.4,115.8 421.9,115.7 422.4,115.6 422.9,115.5 423.4,116.1 423.9,115.9 424.4,115.4 424.9,116.2 425.4,116.2 425.9,116.2 426.4,115.4 426.9,115.9 427.4,116.2" fill="none" stroke="#ff00ff" stroke-width="0.95" stroke-linejoin="round"/>
<text x="491" y="45.7" font-size="5.1" font-weight="normal" text-anchor="middle" fill="#333">Multi-sample : All Events</text>
<polyline points="446.6,117.4 446.6,48 542,48 542,117.4" fill="none" stroke="#6a6a6a" stroke-width="0.8"/>
<polyline points="446.6,48 446.6,117.4 542,117.4" fill="none" stroke="#3a3a3a" stroke-width="0.9"/>
<line x1="444.0" y1="49" x2="446.6" y2="49" stroke="#555" stroke-width="0.6"/>
<text transform="translate(442.40000000000003,49) rotate(-90)" font-size="4.6" text-anchor="middle" fill="#555" stroke="#555" stroke-width="0.12">600</text>
<line x1="444.0" y1="72.4" x2="446.6" y2="72.4" stroke="#555" stroke-width="0.6"/>
<text transform="translate(442.40000000000003,72.4) rotate(-90)" font-size="4.6" text-anchor="middle" fill="#555" stroke="#555" stroke-width="0.12">400</text>
<line x1="444.0" y1="96" x2="446.6" y2="96" stroke="#555" stroke-width="0.6"/>
<text transform="translate(442.40000000000003,96) rotate(-90)" font-size="4.6" text-anchor="middle" fill="#555" stroke="#555" stroke-width="0.12">200</text>
<line x1="444.0" y1="117.4" x2="446.6" y2="117.4" stroke="#555" stroke-width="0.6"/>
<text transform="translate(442.40000000000003,117.4) rotate(-90)" font-size="4.6" text-anchor="middle" fill="#555" stroke="#555" stroke-width="0.12">0</text>
<line x1="445.3" y1="117.4" x2="446.6" y2="117.4" stroke="#777" stroke-width="0.4"/>
<line x1="445.3" y1="111.7" x2="446.6" y2="111.7" stroke="#777" stroke-width="0.4"/>
<line x1="445.3" y1="106.0" x2="446.6" y2="106.0" stroke="#777" stroke-width="0.4"/>
<line x1="445.3" y1="100.3" x2="446.6" y2="100.3" stroke="#777" stroke-width="0.4"/>
<line x1="445.3" y1="94.6" x2="446.6" y2="94.6" stroke="#777" stroke-width="0.4"/>
<line x1="445.3" y1="88.9" x2="446.6" y2="88.9" stroke="#777" stroke-width="0.4"/>
<line x1="445.3" y1="83.2" x2="446.6" y2="83.2" stroke="#777" stroke-width="0.4"/>
<line x1="445.3" y1="77.5" x2="446.6" y2="77.5" stroke="#777" stroke-width="0.4"/>
<line x1="445.3" y1="71.8" x2="446.6" y2="71.8" stroke="#777" stroke-width="0.4"/>
<line x1="445.3" y1="66.1" x2="446.6" y2="66.1" stroke="#777" stroke-width="0.4"/>
<line x1="445.3" y1="60.4" x2="446.6" y2="60.4" stroke="#777" stroke-width="0.4"/>
<line x1="445.3" y1="54.7" x2="446.6" y2="54.7" stroke="#777" stroke-width="0.4"/>
<line x1="445.3" y1="49.0" x2="446.6" y2="49.0" stroke="#777" stroke-width="0.4"/>
<line x1="447.6" y1="117.4" x2="447.6" y2="119.0" stroke="#666" stroke-width="0.5"/>
<text x="447.6" y="125.0" font-size="4.6" font-weight="normal" text-anchor="middle" fill="#444">10<tspan font-size="3.2" dy="-1.5">3</tspan></text>
<line x1="474.4" y1="117.4" x2="474.4" y2="119.0" stroke="#666" stroke-width="0.5"/>
<text x="474.4" y="125.0" font-size="4.6" font-weight="normal" text-anchor="middle" fill="#444">10<tspan font-size="3.2" dy="-1.5">4</tspan></text>
<line x1="499.5" y1="117.4" x2="499.5" y2="119.0" stroke="#666" stroke-width="0.5"/>
<text x="499.5" y="125.0" font-size="4.6" font-weight="normal" text-anchor="middle" fill="#444">10<tspan font-size="3.2" dy="-1.5">5</tspan></text>
<line x1="525.5" y1="117.4" x2="525.5" y2="119.0" stroke="#666" stroke-width="0.5"/>
<text x="525.5" y="125.0" font-size="4.6" font-weight="normal" text-anchor="middle" fill="#444">10<tspan font-size="3.2" dy="-1.5">6</tspan></text>
<text x="494" y="129.6" font-size="4.4" font-weight="normal" text-anchor="middle" fill="#555">FITC-A</text>
<text transform="translate(435.9,82.5) rotate(-90)" font-size="4.6" text-anchor="middle" fill="#555" stroke="#555" stroke-width="0.12">Count</text>
<polyline points="447.1,116.3 447.6,116.4 448.1,116.5 448.6,116.0 449.1,116.7 449.6,116.9 450.1,116.8 450.6,116.9 451.1,116.6 451.6,116.6 452.1,116.5 452.6,116.4 453.1,116.3 453.6,116.4 454.1,116.6 454.6,116.4 455.1,116.6 455.6,116.6 456.1,116.8 456.6,116.5 457.1,116.0 457.6,116.3 458.1,116.9 458.6,116.8 459.1,116.5 459.6,116.5 460.1,116.6 460.6,116.5 461.1,116.7 461.6,116.8 462.1,116.9 462.6,116.5 463.1,116.5 463.6,116.5 464.1,116.6 464.6,116.9 465.1,116.4 465.6,116.9 466.1,116.8 466.6,116.9 467.1,116.3 467.6,116.5 468.1,116.4 468.6,116.6 469.1,116.0 469.6,116.7 470.1,116.1 470.6,116.7 471.1,116.9 471.6,116.6 472.1,116.6 472.6,116.6 473.1,116.5 473.6,116.7 474.1,115.1 474.6,112.1 475.1,109.5 475.6,106.1 476.1,102.7 476.6,99.7 477.1,95.9 477.6,93.8 478.1,90.4 478.6,90.2 479.1,85.3 479.6,83.7 480.1,75.7 480.6,75.3 481.1,73.1 481.6,69.6 482.1,66.0 482.6,64.2 483.1,62.4 483.6,64.2 484.1,66.1 484.6,67.6 485.1,64.5 485.6,67.9 486.1,71.0 486.6,74.9 487.1,76.8 487.6,81.8 488.1,84.1 488.6,88.3 489.1,89.1 489.6,92.4 490.1,94.8 490.6,96.6 491.1,101.1 491.6,103.0 492.1,105.4 492.6,107.0 493.1,106.7 493.6,107.4 494.1,108.5 494.6,109.6 495.1,109.1 495.6,110.3 496.1,110.3 496.6,110.5 497.1,111.5 497.6,112.3 498.1,112.5 498.6,113.2 499.1,113.0 499.6,113.0 500.1,113.9 500.6,113.7 501.1,114.4 501.6,114.5 502.1,115.0 502.6,115.5 503.1,115.1 503.6,115.8 504.1,116.1 504.6,116.8 505.1,116.6 505.6,116.4 506.1,116.4 506.6,116.9 507.1,116.3 507.6,116.6 508.1,116.7 508.6,116.3 509.1,116.4 509.6,116.0 510.1,116.3 510.6,116.8 511.1,116.7 511.6,116.1 512.1,116.9 512.6,116.2 513.1,116.3 513.6,116.9 514.1,116.7 514.6,116.6 515.1,116.9 515.6,116.6 516.1,116.7 516.6,116.4 517.1,116.6 517.6,116.6 518.1,116.9 518.6,116.4 519.1,116.5 519.6,116.0 520.1,116.1 520.6,116.8 521.1,116.5 521.6,116.5 522.1,116.8 522.6,116.5 523.1,116.6 523.6,116.5 524.1,116.0 524.6,116.8 525.1,116.9 525.6,116.9 526.1,116.6 526.6,116.7 527.1,116.7 527.6,116.9 528.1,116.9 528.6,116.5 529.1,116.6 529.6,116.5 530.1,116.4 530.6,116.4 531.1,116.5 531.6,115.9 532.1,116.7 532.6,116.5 533.1,116.2 533.6,116.5 534.1,116.4 534.6,116.9 535.1,116.3 535.6,116.6 536.1,116.7 536.6,116.3 537.1,116.2 537.6,116.7 538.1,116.5 538.6,116.3 539.1,116.2 539.6,116.7 540.1,116.9 540.6,116.4 541.1,116.7" fill="none" stroke="#ff0000" stroke-width="0.95" stroke-linejoin="round"/>
<polyline points="447.1,116.9 447.6,116.9 448.1,116.4 448.6,116.7 449.1,116.8 449.6,116.9 450.1,116.6 450.6,116.9 451.1,116.8 451.6,116.8 452.1,116.3 452.6,116.7 453.1,116.9 453.6,116.5 454.1,116.7 454.6,116.4 455.1,116.7 455.6,116.7 456.1,116.8 456.6,116.5 457.1,116.5 457.6,116.4 458.1,116.7 458.6,116.7 459.1,116.9 459.6,116.4 460.1,116.8 460.6,116.5 461.1,116.5 461.6,116.9 462.1,116.7 462.6,116.8 463.1,116.2 463.6,116.9 464.1,116.9 464.6,116.4 465.1,116.2 465.6,116.4 466.1,116.7 466.6,116.3 467.1,116.7 467.6,116.4 468.1,116.9 468.6,116.5 469.1,116.5 469.6,116.9 470.1,116.7 470.6,116.6 471.1,116.6 471.6,116.8 472.1,116.5 472.6,116.6 473.1,116.5 473.6,116.2 474.1,116.5 474.6,116.6 475.1,116.5 475.6,113.4 476.1,110.6 476.6,108.0 477.1,105.6 477.6,101.0 478.1,99.5 478.6,95.1 479.1,92.5 479.6,90.7 480.1,88.6 480.6,86.0 481.1,83.3 481.6,81.9 482.1,78.2 482.6,76.1 483.1,73.1 483.6,73.9 484.1,71.1 484.6,69.2 485.1,70.3 485.6,73.0 486.1,74.4 486.6,74.2 487.1,78.9 487.6,78.9 488.1,83.1 488.6,87.4 489.1,88.3 489.6,92.1 490.1,93.8 490.6,94.9 491.1,94.5 491.6,97.4 492.1,99.2 492.6,100.5 493.1,102.2 493.6,103.6 494.1,103.9 494.6,104.5 495.1,106.1 495.6,106.2 496.1,106.2 496.6,106.6 497.1,107.7 497.6,108.2 498.1,108.2 498.6,108.9 499.1,109.3 499.6,109.8 500.1,110.9 500.6,110.4 501.1,111.5 501.6,111.5 502.1,112.0 502.6,112.7 503.1,112.4 503.6,112.8 504.1,113.0 504.6,113.4 505.1,114.0 505.6,114.5 506.1,114.2 506.6,115.0 507.1,114.6 507.6,115.9 508.1,115.4 508.6,115.7 509.1,116.2 509.6,116.4 510.1,116.6 510.6,116.1 511.1,116.8 511.6,116.8 512.1,116.5 512.6,116.3 513.1,116.7 513.6,116.9 514.1,116.1 514.6,116.3 515.1,116.6 515.6,116.4 516.1,116.5 516.6,116.6 517.1,116.8 517.6,116.8 518.1,116.9 518.6,116.8 519.1,116.4 519.6,115.9 520.1,116.7 520.6,116.7 521.1,116.7 521.6,116.4 522.1,116.9 522.6,116.1 523.1,116.8 523.6,116.8 524.1,116.9 524.6,116.9 525.1,116.7 525.6,116.7 526.1,116.5 526.6,116.8 527.1,116.7 527.6,116.8 528.1,116.3 528.6,116.2 529.1,116.6 529.6,116.7 530.1,116.2 530.6,116.3 531.1,116.5 531.6,116.7 532.1,116.7 532.6,116.9 533.1,116.6 533.6,116.7 534.1,116.9 534.6,116.5 535.1,116.9 535.6,116.5 536.1,116.6 536.6,116.1 537.1,116.6 537.6,116.5 538.1,116.4 538.6,116.7 539.1,116.3 539.6,116.7 540.1,116.0 540.6,116.5 541.1,116.9" fill="none" stroke="#ff8000" stroke-width="0.95" stroke-linejoin="round"/>
<polyline points="447.1,116.6 447.1,88 448,116.6" fill="none" stroke="#ff00ff" stroke-width="0.95"/>
<polyline points="447.1,116.6 447.6,116.8 448.1,116.3 448.6,116.2 449.1,116.9 449.6,116.9 450.1,116.8 450.6,116.6 451.1,116.9 451.6,116.5 452.1,116.8 452.6,116.8 453.1,116.4 453.6,116.9 454.1,116.6 454.6,116.8 455.1,116.2 455.6,116.3 456.1,116.5 456.6,116.7 457.1,116.9 457.6,116.7 458.1,116.6 458.6,116.8 459.1,116.5 459.6,116.6 460.1,116.7 460.6,116.4 461.1,116.7 461.6,116.2 462.1,116.4 462.6,116.8 463.1,116.4 463.6,116.7 464.1,116.7 464.6,116.5 465.1,116.9 465.6,116.7 466.1,116.4 466.6,116.5 467.1,116.6 467.6,116.2 468.1,116.9 468.6,116.6 469.1,116.1 469.6,116.3 470.1,116.9 470.6,116.7 471.1,116.9 471.6,116.6 472.1,116.7 472.6,116.9 473.1,116.9 473.6,116.3 474.1,116.8 474.6,116.3 475.1,116.5 475.6,116.1 476.1,116.8 476.6,116.3 477.1,116.4 477.6,116.9 478.1,116.8 478.6,116.6 479.1,116.1 479.6,116.7 480.1,116.0 480.6,116.3 481.1,116.8 481.6,116.8 482.1,116.6 482.6,116.8 483.1,116.7 483.6,116.4 484.1,116.6 484.6,116.9 485.1,116.6 485.6,116.7 486.1,116.8 486.6,116.2 487.1,116.3 487.6,116.2 488.1,116.4 488.6,114.8 489.1,113.1 489.6,111.7 490.1,110.8 490.6,109.5 491.1,107.7 491.6,105.0 492.1,102.9 492.6,100.0 493.1,97.8 493.6,94.5 494.1,90.8 494.6,86.4 495.1,82.9 495.6,80.0 496.1,72.6 496.6,68.4 497.1,67.0 497.6,63.2 498.1,62.0 498.6,64.0 499.1,65.7 499.6,69.1 500.1,76.0 500.6,74.7 501.1,79.5 501.6,82.1 502.1,86.8 502.6,91.1 503.1,94.8 503.6,97.5 504.1,100.1 504.6,103.0 505.1,104.0 505.6,105.4 506.1,107.1 506.6,108.0 507.1,110.2 507.6,110.9 508.1,111.4 508.6,112.1 509.1,112.9 509.6,114.3 510.1,114.2 510.6,114.9 511.1,115.9 511.6,116.0 512.1,116.2 512.6,116.4 513.1,116.5 513.6,116.1 514.1,116.5 514.6,116.6 515.1,116.9 515.6,116.8 516.1,116.6 516.6,116.4 517.1,116.4 517.6,116.1 518.1,116.5 518.6,115.9 519.1,116.5 519.6,116.9 520.1,116.5 520.6,116.7 521.1,116.3 521.6,116.0 522.1,116.6 522.6,116.5 523.1,116.7 523.6,116.6 524.1,116.7 524.6,116.4 525.1,116.7 525.6,116.8 526.1,116.4 526.6,116.5 527.1,116.9 527.6,116.7 528.1,116.5 528.6,116.1 529.1,116.5 529.6,116.9 530.1,116.4 530.6,116.5 531.1,116.3 531.6,116.5 532.1,116.6 532.6,116.6 533.1,116.4 533.6,116.3 534.1,116.9 534.6,116.6 535.1,116.3 535.6,116.5 536.1,116.7 536.6,116.9 537.1,116.7 537.6,116.5 538.1,116.7 538.6,116.2 539.1,116.3 539.6,116.9 540.1,116.6 540.6,116.6 541.1,116.4" fill="none" stroke="#ff00ff" stroke-width="0.95" stroke-linejoin="round"/>
<polyline points="447.1,116.2 447.6,116.6 448.1,116.6 448.6,116.9 449.1,116.3 449.6,116.6 450.1,116.5 450.6,116.3 451.1,116.9 451.6,116.9 452.1,116.6 452.6,116.2 453.1,116.7 453.6,116.7 454.1,116.4 454.6,116.1 455.1,116.9 455.6,116.2 456.1,116.9 456.6,116.4 457.1,116.5 457.6,116.9 458.1,116.2 458.6,116.5 459.1,116.6 459.6,116.9 460.1,116.8 460.6,116.6 461.1,116.2 461.6,116.9 462.1,116.5 462.6,116.6 463.1,116.1 463.6,116.5 464.1,116.7 464.6,116.5 465.1,116.7 465.6,116.9 466.1,116.9 466.6,116.4 467.1,116.1 467.6,115.9 468.1,116.5 468.6,116.1 469.1,116.7 469.6,116.0 470.1,116.9 470.6,116.6 471.1,116.1 471.6,116.6 472.1,116.7 472.6,116.7 473.1,116.6 473.6,116.7 474.1,116.7 474.6,116.5 475.1,116.6 475.6,116.2 476.1,116.8 476.6,116.2 477.1,116.5 477.6,116.2 478.1,116.8 478.6,116.6 479.1,116.3 479.6,116.6 480.1,116.5 480.6,116.7 481.1,116.6 481.6,116.5 482.1,116.5 482.6,116.1 483.1,116.7 483.6,116.8 484.1,116.3 484.6,116.7 485.1,116.9 485.6,116.8 486.1,116.9 486.6,116.8 487.1,116.4 487.6,116.9 488.1,116.6 488.6,116.4 489.1,116.9 489.6,116.4 490.1,116.8 490.6,116.4 491.1,116.9 491.6,116.9 492.1,116.5 492.6,116.8 493.1,116.8 493.6,116.6 494.1,116.7 494.6,116.6 495.1,116.4 495.6,116.1 496.1,115.5 496.6,114.7 497.1,113.8 497.6,112.8 498.1,111.9 498.6,110.7 499.1,110.1 499.6,106.6 500.1,105.0 500.6,101.9 501.1,99.3 501.6,99.1 502.1,95.0 502.6,89.5 503.1,87.9 503.6,83.4 504.1,82.9 504.6,76.1 505.1,73.8 505.6,69.8 506.1,66.4 506.6,64.7 507.1,61.9 507.6,62.9 508.1,64.8 508.6,67.8 509.1,72.9 509.6,75.6 510.1,83.1 510.6,84.3 511.1,91.7 511.6,94.8 512.1,99.5 512.6,100.7 513.1,102.5 513.6,105.1 514.1,105.9 514.6,107.3 515.1,108.9 515.6,110.5 516.1,112.0 516.6,112.9 517.1,113.3 517.6,113.8 518.1,114.4 518.6,115.2 519.1,115.3 519.6,116.2 520.1,116.3 520.6,116.3 521.1,116.8 521.6,116.6 522.1,116.5 522.6,116.3 523.1,116.7 523.6,116.9 524.1,116.8 524.6,116.8 525.1,116.6 525.6,116.9 526.1,116.5 526.6,116.9 527.1,116.7 527.6,116.6 528.1,116.9 528.6,116.3 529.1,116.4 529.6,116.4 530.1,116.5 530.6,116.9 531.1,116.3 531.6,116.9 532.1,116.9 532.6,116.9 533.1,116.7 533.6,116.2 534.1,116.3 534.6,116.9 535.1,116.5 535.6,116.7 536.1,116.7 536.6,116.9 537.1,116.9 537.6,116.7 538.1,116.6 538.6,116.9 539.1,116.3 539.6,116.4 540.1,116.3 540.6,116.4 541.1,116.2" fill="none" stroke="#00e800" stroke-width="0.95" stroke-linejoin="round"/>
<text x="104.8" y="183" font-size="11.4" font-weight="bold" text-anchor="start" fill="#000" stroke="#000" stroke-width="0.3" textLength="54.5" lengthAdjust="spacingAndGlyphs" >Untreated</text>
<rect x="49" y="187.1" width="149.6" height="1.5" fill="#000"/>
<text x="356.5" y="183.3" font-size="11.4" font-weight="bold" text-anchor="start" fill="#000" stroke="#000" stroke-width="0.3" textLength="61" lengthAdjust="spacingAndGlyphs" >Axi-treated</text>
<rect x="226.7" y="187.1" width="318.7" height="1.5" fill="#000"/>
<text transform="translate(28.8,268.7) rotate(-90)" font-size="11.2" font-weight="bold" text-anchor="start" fill="#000" stroke="#000" stroke-width="0.3" textLength="64" lengthAdjust="spacingAndGlyphs">Cell number</text>
<rect x="50.7" y="292.8" width="230.3" height="1.5" fill="#000"/>
<text x="292.4" y="298.4" font-size="11.4" font-weight="bold" text-anchor="start" fill="#000" stroke="#000" stroke-width="0.3" textLength="22.6" lengthAdjust="spacingAndGlyphs" >FSC</text>
<rect x="332" y="292.8" width="200" height="1.5" fill="#000"/>
<polygon points="537.4,293.5 530.6,289.6 530.6,297.4" fill="#000"/>
<text x="77.3" y="203.6" font-size="10.8" font-weight="bold" text-anchor="start" fill="#000" stroke="#000" stroke-width="0.3" textLength="26.7" lengthAdjust="spacingAndGlyphs" >None</text>
<text x="79.3" y="207.9" font-size="3.7" text-anchor="middle" fill="#555">Tube3 : All Events</text>
<polygon points="47.8,275.3 47.8,275.3 48.2,275.3 48.6,275.3 49.0,275.3 49.4,275.3 49.8,275.3 50.2,275.3 50.6,275.3 51.0,275.3 51.4,275.3 51.8,275.3 52.2,275.3 52.6,275.3 53.0,275.3 53.4,275.3 53.8,275.3 54.2,275.3 54.6,275.3 55.0,275.3 55.4,275.3 55.8,275.3 56.2,275.3 56.6,275.3 57.0,275.3 57.4,275.3 57.8,275.3 58.2,275.3 58.6,275.1 59.0,274.4 59.4,273.4 59.8,270.8 60.2,265.9 60.6,262.8 61.0,257.6 61.4,250.6 61.8,247.6 62.2,245.4 62.6,244.4 63.0,240.8 63.4,239.7 63.8,235.4 64.2,239.0 64.6,238.4 65.0,239.9 65.4,242.1 65.8,241.3 66.2,241.9 66.6,243.5 67.0,244.5 67.4,244.9 67.8,248.0 68.2,247.7 68.6,249.7 69.0,252.4 69.4,253.2 69.8,259.0 70.2,260.0 70.6,260.4 71.0,260.4 71.4,263.3 71.8,266.2 72.2,266.1 72.6,268.7 73.0,270.1 73.4,270.6 73.8,270.7 74.2,271.8 74.6,272.9 75.0,273.1 75.4,272.8 75.8,273.4 76.2,273.3 76.6,273.1 77.0,273.6 77.4,273.6 77.8,273.5 78.2,273.6 78.6,273.2 79.0,273.6 79.4,273.5 79.8,273.5 80.2,273.8 80.6,273.5 81.0,273.4 81.4,273.8 81.8,273.9 82.2,273.8 82.6,273.5 83.0,273.8 83.4,274.0 83.8,274.2 84.2,273.9 84.6,274.2 85.0,273.7 85.4,274.2 85.8,274.3 86.2,273.8 86.6,274.0 87.0,274.0 87.4,274.3 87.8,273.9 88.2,274.0 88.6,274.1 89.0,273.9 89.4,273.9 89.8,274.2 90.2,273.8 90.6,274.1 91.0,274.2 91.4,274.1 91.8,274.2 92.2,273.9 92.6,274.2 93.0,274.3 93.4,274.3 93.8,274.1 94.2,274.7 94.6,274.6 95.0,274.4 95.4,274.2 95.8,274.2 96.2,274.4 96.6,274.7 97.0,274.9 97.4,274.4 97.8,274.5 98.2,274.3 98.6,274.2 99.0,274.6 99.4,274.1 99.8,274.5 100.2,274.5 100.6,274.4 101.0,274.9 101.4,273.9 101.8,274.6 102.2,274.2 102.6,274.7 103.0,274.9 103.4,274.8 103.8,274.8 104.2,275.0 104.6,275.2 105.0,274.4 105.4,274.8 105.8,274.6 106.2,274.3 106.6,274.8 107.0,274.7 107.4,274.4 107.8,274.6 108.2,274.7 108.6,275.0 109.0,275.0 109.4,274.6 109.8,274.8 110.2,274.6 110.6,274.6 111.0,274.7 111.4,274.7 111.8,274.8 112.2,274.6 112.6,275.3 113.0,275.0 113.4,274.8 113.8,274.5 114.2,275.3 114.6,275.1 115.0,274.8 115.4,274.6 115.8,275.1 116.2,275.3 116.6,274.9 116.6,275.3" fill="#1f5fe8" stroke="none"/>
<polygon points="47.8,275.3 47.8,211.3 48.2,211.3 48.6,240.1 49.0,254.7 49.4,262.0 49.8,266.3 50.2,269.3 50.6,271.4 51.0,272.9 51.4,273.7 51.8,274.0 52.2,274.5 52.6,274.8 53.0,275.0 53.4,275.3 53.8,275.3 54.2,275.3 54.6,275.3 55.0,275.3 55.4,275.3 55.8,275.3 56.2,275.3 56.6,275.3 57.0,275.3 57.4,275.3 57.8,275.3 58.2,275.3 58.6,275.3 59.0,275.3 59.4,275.3 59.8,275.3 60.2,275.3 60.6,275.3 61.0,275.3 61.4,275.3 61.8,275.3 62.2,275.3 62.6,275.3 63.0,275.3 63.4,275.3 63.8,275.3 64.2,275.3 64.6,275.3 65.0,275.3 65.4,275.3 65.8,275.3 66.2,275.3 66.6,275.3 67.0,275.3 67.4,275.3 67.8,275.3 68.2,275.3 68.6,275.3 69.0,275.3 69.4,275.3 69.8,275.3 70.2,275.3 70.6,275.3 71.0,275.3 71.4,275.3 71.8,275.3 72.2,275.3 72.6,275.3 73.0,275.3 73.4,275.3 73.8,275.3 74.2,275.3 74.6,275.3 75.0,275.3 75.4,275.3 75.8,275.3 76.2,275.3 76.6,275.3 77.0,275.3 77.4,275.3 77.8,275.3 78.2,275.3 78.6,275.3 79.0,275.3 79.4,275.3 79.8,275.3 80.2,275.3 80.6,275.3 81.0,275.3 81.4,275.3 81.8,275.3 82.2,275.3 82.6,275.3 83.0,275.3 83.4,275.3 83.8,275.3 84.2,275.3 84.6,275.3 85.0,275.3 85.4,275.3 85.8,275.3 86.2,275.3 86.6,275.3 87.0,275.3 87.4,275.3 87.8,275.3 88.2,275.3 88.6,275.3 89.0,275.3 89.4,275.3 89.8,275.3 90.2,275.3 90.6,275.3 91.0,275.3 91.4,275.3 91.8,275.3 92.2,275.3 92.6,275.3 93.0,275.3 93.4,275.3 93.8,275.3 94.2,275.3 94.6,275.3 95.0,275.3 95.4,275.3 95.8,275.3 96.2,275.3 96.6,275.3 97.0,275.3 97.4,275.3 97.8,275.3 98.2,275.3 98.6,275.3 99.0,275.3 99.4,275.3 99.8,275.3 100.2,275.3 100.6,275.3 101.0,275.3 101.4,275.3 101.8,275.3 102.2,275.3 102.6,275.3 103.0,275.3 103.4,275.3 103.8,275.3 104.2,275.3 104.6,275.3 105.0,275.3 105.4,275.3 105.8,275.3 106.2,275.3 106.6,275.3 107.0,275.3 107.4,275.3 107.8,275.3 108.2,275.3 108.6,275.3 109.0,275.3 109.4,275.3 109.8,275.3 110.2,275.3 110.6,275.3 111.0,275.3 111.4,275.3 111.8,275.3 112.2,275.3 112.6,275.3 113.0,275.3 113.4,275.3 113.8,275.3 114.2,275.3 114.6,275.3 115.0,275.3 115.4,275.3 115.8,275.3 116.2,275.3 116.6,275.3 116.6,275.3" fill="#6e6e6e" stroke="none"/>
<polyline points="47.8,211.3 48.2,211.3 48.6,240.1 49.0,254.7 49.4,262.0 49.8,266.3 50.2,269.3 50.6,271.4 51.0,272.9 51.4,273.7 51.8,274.0 52.2,274.5 52.6,274.8 53.0,275.0 53.4,275.3 53.8,275.3 54.2,275.3 54.6,275.3 55.0,275.3 55.4,275.3 55.8,275.3 56.2,275.3 56.6,275.3 57.0,275.3 57.4,275.3 57.8,275.3 58.2,275.3 58.6,275.3 59.0,275.3 59.4,275.3 59.8,275.3 60.2,275.3 60.6,275.3 61.0,275.3 61.4,275.3 61.8,275.3 62.2,275.3 62.6,275.3 63.0,275.3 63.4,275.3 63.8,275.3 64.2,275.3 64.6,275.3 65.0,275.3 65.4,275.3 65.8,275.3 66.2,275.3 66.6,275.3 67.0,275.3 67.4,275.3 67.8,275.3 68.2,275.3 68.6,275.3 69.0,275.3 69.4,275.3 69.8,275.3 70.2,275.3 70.6,275.3 71.0,275.3 71.4,275.3 71.8,275.3 72.2,275.3 72.6,275.3 73.0,275.3 73.4,275.3 73.8,275.3 74.2,275.3 74.6,275.3 75.0,275.3 75.4,275.3 75.8,275.3 76.2,275.3 76.6,275.3 77.0,275.3 77.4,275.3 77.8,275.3 78.2,275.3 78.6,275.3 79.0,275.3 79.4,275.3 79.8,275.3 80.2,275.3 80.6,275.3 81.0,275.3 81.4,275.3 81.8,275.3 82.2,275.3 82.6,275.3 83.0,275.3 83.4,275.3 83.8,275.3 84.2,275.3 84.6,275.3 85.0,275.3 85.4,275.3 85.8,275.3 86.2,275.3 86.6,275.3 87.0,275.3 87.4,275.3 87.8,275.3 88.2,275.3 88.6,275.3 89.0,275.3 89.4,275.3 89.8,275.3 90.2,275.3 90.6,275.3 91.0,275.3 91.4,275.3 91.8,275.3 92.2,275.3 92.6,275.3 93.0,275.3 93.4,275.3 93.8,275.3 94.2,275.3 94.6,275.3 95.0,275.3 95.4,275.3 95.8,275.3 96.2,275.3 96.6,275.3 97.0,275.3 97.4,275.3 97.8,275.3 98.2,275.3 98.6,275.3 99.0,275.3 99.4,275.3 99.8,275.3 100.2,275.3 100.6,275.3 101.0,275.3 101.4,275.3 101.8,275.3 102.2,275.3 102.6,275.3 103.0,275.3 103.4,275.3 103.8,275.3 104.2,275.3 104.6,275.3 105.0,275.3 105.4,275.3 105.8,275.3 106.2,275.3 106.6,275.3 107.0,275.3 107.4,275.3 107.8,275.3 108.2,275.3 108.6,275.3 109.0,275.3 109.4,275.3 109.8,275.3 110.2,275.3 110.6,275.3 111.0,275.3 111.4,275.3 111.8,275.3 112.2,275.3 112.6,275.3 113.0,275.3 113.4,275.3 113.8,275.3 114.2,275.3 114.6,275.3 115.0,275.3 115.4,275.3 115.8,275.3 116.2,275.3 116.6,275.3" fill="none" stroke="#555" stroke-width="0.3" stroke-linejoin="round"/>
<rect x="47.4" y="210.0" width="69.6" height="65.30000000000001" fill="none" stroke="#8a8a8a" stroke-width="0.7"/>
<polyline points="47.4,210.0 47.4,275.3 117.0,275.3" fill="none" stroke="#333" stroke-width="0.8"/>
<line x1="54.9" y1="221" x2="113.2" y2="221" stroke="#6aa6ee" stroke-width="0.7"/>
<line x1="54.9" y1="219.5" x2="54.9" y2="222.5" stroke="#6aa6ee" stroke-width="0.6"/>
<line x1="113.2" y1="219.5" x2="113.2" y2="222.5" stroke="#6aa6ee" stroke-width="0.6"/>
<text x="54.9" y="217.4" font-size="4.0" fill="#6aa6ee" stroke="#6aa6ee" stroke-width="0.1">P3(62.6%)</text>
<text x="84.7" y="239.3" font-size="10.4" font-weight="bold" text-anchor="start" fill="#000" stroke="#000" stroke-width="0.3" textLength="19.0" lengthAdjust="spacingAndGlyphs" >62.6</text>
<line x1="45.9" y1="224" x2="47.4" y2="224" stroke="#555" stroke-width="0.4"/>
<text transform="translate(44.4,224) rotate(-90)" font-size="3.2" text-anchor="middle" fill="#444" stroke="#444" stroke-width="0.12">400</text>
<line x1="45.9" y1="251" x2="47.4" y2="251" stroke="#555" stroke-width="0.4"/>
<text transform="translate(44.4,251) rotate(-90)" font-size="3.2" text-anchor="middle" fill="#444" stroke="#444" stroke-width="0.12">200</text>
<text transform="translate(37.9,243) rotate(-90)" font-size="3.4" text-anchor="middle" fill="#444" stroke="#444" stroke-width="0.12">Count</text>
<text x="47.4" y="280.7" font-size="3.6" font-weight="normal" text-anchor="middle" fill="#666">0</text>
<text x="75.1391304347826" y="280.7" font-size="3.6" font-weight="normal" text-anchor="middle" fill="#666">200</text>
<text x="102.87826086956521" y="280.7" font-size="3.6" font-weight="normal" text-anchor="middle" fill="#666">400</text>
<text x="80.18260869565216" y="284.6" font-size="3.4" font-weight="normal" text-anchor="middle" fill="#666">FSC-A</text>
<text x="111.95652173913044" y="284" font-size="3.2" font-weight="normal" text-anchor="middle" fill="#444">(x 10<tspan font-size="2.4" dy="-1">3</tspan>)</text>
<text x="141.70000000000002" y="203.6" font-size="10.8" font-weight="bold" text-anchor="start" fill="#000" stroke="#000" stroke-width="0.3" textLength="42.7" lengthAdjust="spacingAndGlyphs" >ABT-263</text>
<text x="163.25" y="207.9" font-size="3.7" text-anchor="middle" fill="#555">Tube6 : All Events</text>
<polygon points="132.2,275.3 132.2,275.3 132.6,275.3 133.0,275.3 133.4,275.3 133.8,275.3 134.2,275.3 134.6,275.3 135.0,275.3 135.4,275.3 135.8,275.3 136.2,275.3 136.6,275.3 137.0,275.3 137.4,275.3 137.8,275.3 138.2,275.3 138.6,275.3 139.0,275.3 139.4,275.3 139.8,275.3 140.2,275.3 140.6,275.1 141.0,274.5 141.4,274.5 141.8,273.2 142.2,272.9 142.6,270.7 143.0,269.1 143.4,266.3 143.8,265.3 144.2,263.1 144.6,262.0 145.0,255.9 145.4,258.0 145.8,250.3 146.2,248.2 146.6,244.9 147.0,246.4 147.4,243.2 147.8,238.9 148.2,234.5 148.6,235.0 149.0,232.1 149.4,238.0 149.8,237.3 150.2,240.5 150.6,242.5 151.0,245.4 151.4,246.8 151.8,253.2 152.2,251.5 152.6,256.6 153.0,258.0 153.4,260.6 153.8,260.4 154.2,262.5 154.6,265.1 155.0,267.2 155.4,266.6 155.8,269.0 156.2,269.6 156.6,271.0 157.0,271.5 157.4,272.0 157.8,272.3 158.2,272.3 158.6,272.5 159.0,273.5 159.4,273.3 159.8,273.6 160.2,273.2 160.6,273.3 161.0,273.7 161.4,273.1 161.8,273.4 162.2,273.1 162.6,273.7 163.0,273.4 163.4,273.3 163.8,273.7 164.2,273.6 164.6,273.7 165.0,273.8 165.4,273.7 165.8,274.3 166.2,273.7 166.6,273.9 167.0,274.2 167.4,273.7 167.8,274.4 168.2,274.2 168.6,273.7 169.0,273.8 169.4,274.1 169.8,273.6 170.2,274.1 170.6,274.1 171.0,274.0 171.4,273.9 171.8,273.9 172.2,274.3 172.6,274.2 173.0,273.9 173.4,273.8 173.8,274.0 174.2,273.9 174.6,273.9 175.0,274.4 175.4,274.2 175.8,273.6 176.2,274.2 176.6,274.0 177.0,274.5 177.4,273.5 177.8,274.4 178.2,274.1 178.6,274.1 179.0,274.6 179.4,274.3 179.8,274.0 180.2,274.5 180.6,274.1 181.0,274.4 181.4,274.0 181.8,273.8 182.2,274.6 182.6,274.3 183.0,274.6 183.4,274.6 183.8,274.4 184.2,274.4 184.6,274.3 185.0,274.3 185.4,275.0 185.8,274.6 186.2,275.0 186.6,274.4 187.0,274.3 187.4,274.5 187.8,274.7 188.2,274.5 188.6,274.4 189.0,274.5 189.4,274.7 189.8,274.7 190.2,274.3 190.6,274.6 191.0,274.6 191.4,274.7 191.8,274.5 192.2,274.6 192.6,274.8 193.0,274.8 193.4,274.8 193.8,274.7 194.2,274.6 194.6,275.1 195.0,274.4 195.4,275.1 195.8,274.8 196.2,275.1 196.6,275.0 197.0,274.9 197.4,274.8 197.8,274.8 198.2,274.7 198.6,275.0 199.0,274.6 199.4,275.3 199.8,274.9 199.8,275.3" fill="#1f5fe8" stroke="none"/>
<polygon points="132.2,275.3 132.2,211.3 132.6,211.3 133.0,211.3 133.4,234.0 133.8,249.0 134.2,257.0 134.6,262.1 135.0,265.9 135.4,268.9 135.8,271.9 136.2,273.7 136.6,274.3 137.0,274.7 137.4,275.0 137.8,275.3 138.2,275.3 138.6,275.3 139.0,275.3 139.4,275.3 139.8,275.3 140.2,275.3 140.6,275.3 141.0,275.3 141.4,275.3 141.8,275.3 142.2,275.3 142.6,275.3 143.0,275.3 143.4,275.3 143.8,275.3 144.2,275.3 144.6,275.3 145.0,275.3 145.4,275.3 145.8,275.3 146.2,275.3 146.6,275.3 147.0,275.3 147.4,275.3 147.8,275.3 148.2,275.3 148.6,275.3 149.0,275.3 149.4,275.3 149.8,275.3 150.2,275.3 150.6,275.3 151.0,275.3 151.4,275.3 151.8,275.3 152.2,275.3 152.6,275.3 153.0,275.3 153.4,275.3 153.8,275.3 154.2,275.3 154.6,275.3 155.0,275.3 155.4,275.3 155.8,275.3 156.2,275.3 156.6,275.3 157.0,275.3 157.4,275.3 157.8,275.3 158.2,275.3 158.6,275.3 159.0,275.3 159.4,275.3 159.8,275.3 160.2,275.3 160.6,275.3 161.0,275.3 161.4,275.3 161.8,275.3 162.2,275.3 162.6,275.3 163.0,275.3 163.4,275.3 163.8,275.3 164.2,275.3 164.6,275.3 165.0,275.3 165.4,275.3 165.8,275.3 166.2,275.3 166.6,275.3 167.0,275.3 167.4,275.3 167.8,275.3 168.2,275.3 168.6,275.3 169.0,275.3 169.4,275.3 169.8,275.3 170.2,275.3 170.6,275.3 171.0,275.3 171.4,275.3 171.8,275.3 172.2,275.3 172.6,275.3 173.0,275.3 173.4,275.3 173.8,275.3 174.2,275.3 174.6,275.3 175.0,275.3 175.4,275.3 175.8,275.3 176.2,275.3 176.6,275.3 177.0,275.3 177.4,275.3 177.8,275.3 178.2,275.3 178.6,275.3 179.0,275.3 179.4,275.3 179.8,275.3 180.2,275.3 180.6,275.3 181.0,275.3 181.4,275.3 181.8,275.3 182.2,275.3 182.6,275.3 183.0,275.3 183.4,275.3 183.8,275.3 184.2,275.3 184.6,275.3 185.0,275.3 185.4,275.3 185.8,275.3 186.2,275.3 186.6,275.3 187.0,275.3 187.4,275.3 187.8,275.3 188.2,275.3 188.6,275.3 189.0,275.3 189.4,275.3 189.8,275.3 190.2,275.3 190.6,275.3 191.0,275.3 191.4,275.3 191.8,275.3 192.2,275.3 192.6,275.3 193.0,275.3 193.4,275.3 193.8,275.3 194.2,275.3 194.6,275.3 195.0,275.3 195.4,275.3 195.8,275.3 196.2,275.3 196.6,275.3 197.0,275.3 197.4,275.3 197.8,275.3 198.2,275.3 198.6,275.3 199.0,275.3 199.4,275.3 199.8,275.3 199.8,275.3" fill="#6e6e6e" stroke="none"/>
<polyline points="132.2,211.3 132.6,211.3 133.0,211.3 133.4,234.0 133.8,249.0 134.2,257.0 134.6,262.1 135.0,265.9 135.4,268.9 135.8,271.9 136.2,273.7 136.6,274.3 137.0,274.7 137.4,275.0 137.8,275.3 138.2,275.3 138.6,275.3 139.0,275.3 139.4,275.3 139.8,275.3 140.2,275.3 140.6,275.3 141.0,275.3 141.4,275.3 141.8,275.3 142.2,275.3 142.6,275.3 143.0,275.3 143.4,275.3 143.8,275.3 144.2,275.3 144.6,275.3 145.0,275.3 145.4,275.3 145.8,275.3 146.2,275.3 146.6,275.3 147.0,275.3 147.4,275.3 147.8,275.3 148.2,275.3 148.6,275.3 149.0,275.3 149.4,275.3 149.8,275.3 150.2,275.3 150.6,275.3 151.0,275.3 151.4,275.3 151.8,275.3 152.2,275.3 152.6,275.3 153.0,275.3 153.4,275.3 153.8,275.3 154.2,275.3 154.6,275.3 155.0,275.3 155.4,275.3 155.8,275.3 156.2,275.3 156.6,275.3 157.0,275.3 157.4,275.3 157.8,275.3 158.2,275.3 158.6,275.3 159.0,275.3 159.4,275.3 159.8,275.3 160.2,275.3 160.6,275.3 161.0,275.3 161.4,275.3 161.8,275.3 162.2,275.3 162.6,275.3 163.0,275.3 163.4,275.3 163.8,275.3 164.2,275.3 164.6,275.3 165.0,275.3 165.4,275.3 165.8,275.3 166.2,275.3 166.6,275.3 167.0,275.3 167.4,275.3 167.8,275.3 168.2,275.3 168.6,275.3 169.0,275.3 169.4,275.3 169.8,275.3 170.2,275.3 170.6,275.3 171.0,275.3 171.4,275.3 171.8,275.3 172.2,275.3 172.6,275.3 173.0,275.3 173.4,275.3 173.8,275.3 174.2,275.3 174.6,275.3 175.0,275.3 175.4,275.3 175.8,275.3 176.2,275.3 176.6,275.3 177.0,275.3 177.4,275.3 177.8,275.3 178.2,275.3 178.6,275.3 179.0,275.3 179.4,275.3 179.8,275.3 180.2,275.3 180.6,275.3 181.0,275.3 181.4,275.3 181.8,275.3 182.2,275.3 182.6,275.3 183.0,275.3 183.4,275.3 183.8,275.3 184.2,275.3 184.6,275.3 185.0,275.3 185.4,275.3 185.8,275.3 186.2,275.3 186.6,275.3 187.0,275.3 187.4,275.3 187.8,275.3 188.2,275.3 188.6,275.3 189.0,275.3 189.4,275.3 189.8,275.3 190.2,275.3 190.6,275.3 191.0,275.3 191.4,275.3 191.8,275.3 192.2,275.3 192.6,275.3 193.0,275.3 193.4,275.3 193.8,275.3 194.2,275.3 194.6,275.3 195.0,275.3 195.4,275.3 195.8,275.3 196.2,275.3 196.6,275.3 197.0,275.3 197.4,275.3 197.8,275.3 198.2,275.3 198.6,275.3 199.0,275.3 199.4,275.3 199.8,275.3" fill="none" stroke="#555" stroke-width="0.3" stroke-linejoin="round"/>
<rect x="131.8" y="210.0" width="68.69999999999999" height="65.30000000000001" fill="none" stroke="#8a8a8a" stroke-width="0.7"/>
<polyline points="131.8,210.0 131.8,275.3 200.5,275.3" fill="none" stroke="#333" stroke-width="0.8"/>
<line x1="139.3" y1="221" x2="196.7" y2="221" stroke="#6aa6ee" stroke-width="0.7"/>
<line x1="139.3" y1="219.5" x2="139.3" y2="222.5" stroke="#6aa6ee" stroke-width="0.6"/>
<line x1="196.7" y1="219.5" x2="196.7" y2="222.5" stroke="#6aa6ee" stroke-width="0.6"/>
<text x="139.3" y="217.4" font-size="4.0" fill="#6aa6ee" stroke="#6aa6ee" stroke-width="0.1">P3(63.06%)</text>
<text x="175.0" y="239.3" font-size="10.4" font-weight="bold" text-anchor="start" fill="#000" stroke="#000" stroke-width="0.3" textLength="19.1" lengthAdjust="spacingAndGlyphs" >63.1</text>
<line x1="130.3" y1="224" x2="131.8" y2="224" stroke="#555" stroke-width="0.4"/>
<text transform="translate(128.8,224) rotate(-90)" font-size="3.2" text-anchor="middle" fill="#444" stroke="#444" stroke-width="0.12">400</text>
<line x1="130.3" y1="251" x2="131.8" y2="251" stroke="#555" stroke-width="0.4"/>
<text transform="translate(128.8,251) rotate(-90)" font-size="3.2" text-anchor="middle" fill="#444" stroke="#444" stroke-width="0.12">200</text>
<text transform="translate(122.30000000000001,243) rotate(-90)" font-size="3.4" text-anchor="middle" fill="#444" stroke="#444" stroke-width="0.12">Count</text>
<text x="131.8" y="280.7" font-size="3.6" font-weight="normal" text-anchor="middle" fill="#666">0</text>
<text x="159.1804347826087" y="280.7" font-size="3.6" font-weight="normal" text-anchor="middle" fill="#666">200</text>
<text x="186.5608695652174" y="280.7" font-size="3.6" font-weight="normal" text-anchor="middle" fill="#666">400</text>
<text x="164.15869565217392" y="284.6" font-size="3.4" font-weight="normal" text-anchor="middle" fill="#666">FSC-A</text>
<text x="195.52173913043478" y="284" font-size="3.2" font-weight="normal" text-anchor="middle" fill="#444">(x 10<tspan font-size="2.4" dy="-1">3</tspan>)</text>
<text x="248.8" y="203.6" font-size="10.8" font-weight="bold" text-anchor="start" fill="#000" stroke="#000" stroke-width="0.3" textLength="27.2" lengthAdjust="spacingAndGlyphs" >None</text>
<text x="257.20000000000005" y="207.9" font-size="3.7" text-anchor="middle" fill="#555">Tube8 : All Events</text>
<polygon points="226.0,275.3 226.0,275.3 226.4,275.3 226.8,275.3 227.2,275.3 227.6,275.3 228.0,275.3 228.4,275.3 228.8,275.3 229.2,275.3 229.6,275.3 230.0,275.3 230.4,275.3 230.8,275.3 231.2,275.3 231.6,275.3 232.0,275.2 232.4,275.1 232.8,275.1 233.2,274.7 233.6,275.0 234.0,274.6 234.4,274.2 234.8,274.4 235.2,274.5 235.6,274.4 236.0,274.2 236.4,274.3 236.8,273.8 237.2,273.5 237.6,273.9 238.0,273.7 238.4,272.7 238.8,273.0 239.2,272.4 239.6,272.6 240.0,272.4 240.4,272.3 240.8,271.8 241.2,271.8 241.6,272.1 242.0,272.6 242.4,272.3 242.8,271.8 243.2,272.0 243.6,271.4 244.0,271.4 244.4,271.3 244.8,271.2 245.2,271.2 245.6,271.0 246.0,271.0 246.4,271.4 246.8,270.9 247.2,270.8 247.6,270.3 248.0,270.8 248.4,270.9 248.8,269.6 249.2,270.0 249.6,269.8 250.0,269.4 250.4,270.2 250.8,269.5 251.2,269.8 251.6,270.4 252.0,269.6 252.4,269.5 252.8,269.2 253.2,269.6 253.6,269.5 254.0,269.9 254.4,268.7 254.8,270.2 255.2,269.0 255.6,269.2 256.0,269.1 256.4,268.5 256.8,268.8 257.2,269.6 257.6,269.7 258.0,269.5 258.4,268.7 258.8,268.3 259.2,268.3 259.6,267.9 260.0,267.7 260.4,268.0 260.8,268.6 261.2,267.9 261.6,267.9 262.0,266.1 262.4,266.5 262.8,267.8 263.2,267.1 263.6,266.0 264.0,266.7 264.4,265.9 264.8,266.4 265.2,266.3 265.6,265.9 266.0,266.8 266.4,266.8 266.8,266.4 267.2,265.1 267.6,265.7 268.0,266.9 268.4,264.9 268.8,265.2 269.2,264.7 269.6,265.2 270.0,265.3 270.4,267.2 270.8,265.3 271.2,267.2 271.6,265.9 272.0,264.3 272.4,265.8 272.8,265.8 273.2,266.6 273.6,266.1 274.0,267.5 274.4,266.7 274.8,266.4 275.2,267.0 275.6,267.7 276.0,268.8 276.4,267.6 276.8,267.8 277.2,267.8 277.6,267.1 278.0,268.8 278.4,267.2 278.8,268.7 279.2,266.3 279.6,267.2 280.0,267.7 280.4,268.8 280.8,268.2 281.2,268.4 281.6,268.9 282.0,269.0 282.4,268.2 282.8,268.9 283.2,268.1 283.6,268.8 284.0,269.6 284.4,269.5 284.8,270.0 285.2,270.8 285.6,270.3 286.0,271.0 286.4,270.4 286.8,270.8 287.2,272.2 287.6,271.6 288.0,272.1 288.4,271.5 288.8,272.3 289.2,272.4 289.6,272.5 290.0,273.2 290.4,273.1 290.8,273.0 291.2,273.7 291.6,273.7 292.0,274.0 292.4,273.5 292.8,273.7 293.2,274.3 293.6,274.5 294.0,274.5 294.0,275.3" fill="#1f5fe8" stroke="none"/>
<polygon points="226.0,275.3 226.0,211.3 226.4,211.3 226.8,211.3 227.2,211.3 227.6,211.3 228.0,232.1 228.4,257.3 228.8,265.2 229.2,267.5 229.6,269.7 230.0,271.1 230.4,272.3 230.8,273.3 231.2,273.6 231.6,274.3 232.0,274.8 232.4,275.3 232.8,275.3 233.2,275.3 233.6,275.3 234.0,275.3 234.4,275.3 234.8,275.3 235.2,275.3 235.6,275.3 236.0,275.3 236.4,275.3 236.8,275.3 237.2,275.3 237.6,275.3 238.0,275.3 238.4,275.3 238.8,275.3 239.2,275.3 239.6,275.3 240.0,275.3 240.4,275.3 240.8,275.3 241.2,275.3 241.6,275.3 242.0,275.3 242.4,275.3 242.8,275.3 243.2,275.3 243.6,275.3 244.0,275.3 244.4,275.3 244.8,275.3 245.2,275.3 245.6,275.3 246.0,275.3 246.4,275.3 246.8,275.3 247.2,275.3 247.6,275.3 248.0,275.3 248.4,275.3 248.8,275.3 249.2,275.3 249.6,275.3 250.0,275.3 250.4,275.3 250.8,275.3 251.2,275.3 251.6,275.3 252.0,275.3 252.4,275.3 252.8,275.3 253.2,275.3 253.6,275.3 254.0,275.3 254.4,275.3 254.8,275.3 255.2,275.3 255.6,275.3 256.0,275.3 256.4,275.3 256.8,275.3 257.2,275.3 257.6,275.3 258.0,275.3 258.4,275.3 258.8,275.3 259.2,275.3 259.6,275.3 260.0,275.3 260.4,275.3 260.8,275.3 261.2,275.3 261.6,275.3 262.0,275.3 262.4,275.3 262.8,275.3 263.2,275.3 263.6,275.3 264.0,275.3 264.4,275.3 264.8,275.3 265.2,275.3 265.6,275.3 266.0,275.3 266.4,275.3 266.8,275.3 267.2,275.3 267.6,275.3 268.0,275.3 268.4,275.3 268.8,275.3 269.2,275.3 269.6,275.3 270.0,275.3 270.4,275.3 270.8,275.3 271.2,275.3 271.6,275.3 272.0,275.3 272.4,275.3 272.8,275.3 273.2,275.3 273.6,275.3 274.0,275.3 274.4,275.3 274.8,275.3 275.2,275.3 275.6,275.3 276.0,275.3 276.4,275.3 276.8,275.3 277.2,275.3 277.6,275.3 278.0,275.3 278.4,275.3 278.8,275.3 279.2,275.3 279.6,275.3 280.0,275.3 280.4,275.3 280.8,275.3 281.2,275.3 281.6,275.3 282.0,275.3 282.4,275.3 282.8,275.3 283.2,275.3 283.6,275.3 284.0,275.3 284.4,275.3 284.8,275.3 285.2,275.3 285.6,275.3 286.0,275.3 286.4,275.3 286.8,275.3 287.2,275.3 287.6,275.3 288.0,275.3 288.4,275.3 288.8,275.3 289.2,275.3 289.6,275.3 290.0,275.3 290.4,275.3 290.8,275.3 291.2,275.3 291.6,275.3 292.0,275.3 292.4,275.3 292.8,275.3 293.2,275.3 293.6,275.3 294.0,275.3 294.0,275.3" fill="#6e6e6e" stroke="none"/>
<polyline points="226.0,211.3 226.4,211.3 226.8,211.3 227.2,211.3 227.6,211.3 228.0,232.1 228.4,257.3 228.8,265.2 229.2,267.5 229.6,269.7 230.0,271.1 230.4,272.3 230.8,273.3 231.2,273.6 231.6,274.3 232.0,274.8 232.4,275.3 232.8,275.3 233.2,275.3 233.6,275.3 234.0,275.3 234.4,275.3 234.8,275.3 235.2,275.3 235.6,275.3 236.0,275.3 236.4,275.3 236.8,275.3 237.2,275.3 237.6,275.3 238.0,275.3 238.4,275.3 238.8,275.3 239.2,275.3 239.6,275.3 240.0,275.3 240.4,275.3 240.8,275.3 241.2,275.3 241.6,275.3 242.0,275.3 242.4,275.3 242.8,275.3 243.2,275.3 243.6,275.3 244.0,275.3 244.4,275.3 244.8,275.3 245.2,275.3 245.6,275.3 246.0,275.3 246.4,275.3 246.8,275.3 247.2,275.3 247.6,275.3 248.0,275.3 248.4,275.3 248.8,275.3 249.2,275.3 249.6,275.3 250.0,275.3 250.4,275.3 250.8,275.3 251.2,275.3 251.6,275.3 252.0,275.3 252.4,275.3 252.8,275.3 253.2,275.3 253.6,275.3 254.0,275.3 254.4,275.3 254.8,275.3 255.2,275.3 255.6,275.3 256.0,275.3 256.4,275.3 256.8,275.3 257.2,275.3 257.6,275.3 258.0,275.3 258.4,275.3 258.8,275.3 259.2,275.3 259.6,275.3 260.0,275.3 260.4,275.3 260.8,275.3 261.2,275.3 261.6,275.3 262.0,275.3 262.4,275.3 262.8,275.3 263.2,275.3 263.6,275.3 264.0,275.3 264.4,275.3 264.8,275.3 265.2,275.3 265.6,275.3 266.0,275.3 266.4,275.3 266.8,275.3 267.2,275.3 267.6,275.3 268.0,275.3 268.4,275.3 268.8,275.3 269.2,275.3 269.6,275.3 270.0,275.3 270.4,275.3 270.8,275.3 271.2,275.3 271.6,275.3 272.0,275.3 272.4,275.3 272.8,275.3 273.2,275.3 273.6,275.3 274.0,275.3 274.4,275.3 274.8,275.3 275.2,275.3 275.6,275.3 276.0,275.3 276.4,275.3 276.8,275.3 277.2,275.3 277.6,275.3 278.0,275.3 278.4,275.3 278.8,275.3 279.2,275.3 279.6,275.3 280.0,275.3 280.4,275.3 280.8,275.3 281.2,275.3 281.6,275.3 282.0,275.3 282.4,275.3 282.8,275.3 283.2,275.3 283.6,275.3 284.0,275.3 284.4,275.3 284.8,275.3 285.2,275.3 285.6,275.3 286.0,275.3 286.4,275.3 286.8,275.3 287.2,275.3 287.6,275.3 288.0,275.3 288.4,275.3 288.8,275.3 289.2,275.3 289.6,275.3 290.0,275.3 290.4,275.3 290.8,275.3 291.2,275.3 291.6,275.3 292.0,275.3 292.4,275.3 292.8,275.3 293.2,275.3 293.6,275.3 294.0,275.3" fill="none" stroke="#555" stroke-width="0.3" stroke-linejoin="round"/>
<rect x="225.6" y="210.0" width="69.00000000000003" height="65.30000000000001" fill="none" stroke="#8a8a8a" stroke-width="0.7"/>
<polyline points="225.6,210.0 225.6,275.3 294.6,275.3" fill="none" stroke="#333" stroke-width="0.8"/>
<line x1="239.6" y1="221" x2="290.8" y2="221" stroke="#6aa6ee" stroke-width="0.7"/>
<line x1="239.6" y1="219.5" x2="239.6" y2="222.5" stroke="#6aa6ee" stroke-width="0.6"/>
<line x1="290.8" y1="219.5" x2="290.8" y2="222.5" stroke="#6aa6ee" stroke-width="0.6"/>
<text x="239.6" y="217.4" font-size="4.0" fill="#6aa6ee" stroke="#6aa6ee" stroke-width="0.1">P3(51.03%)</text>
<text x="266.2" y="239.3" font-size="10.4" font-weight="bold" text-anchor="start" fill="#000" stroke="#000" stroke-width="0.3" textLength="18.6" lengthAdjust="spacingAndGlyphs" >51.0</text>
<line x1="224.1" y1="224" x2="225.6" y2="224" stroke="#555" stroke-width="0.4"/>
<text transform="translate(222.6,224) rotate(-90)" font-size="3.2" text-anchor="middle" fill="#444" stroke="#444" stroke-width="0.12">400</text>
<line x1="224.1" y1="251" x2="225.6" y2="251" stroke="#555" stroke-width="0.4"/>
<text transform="translate(222.6,251) rotate(-90)" font-size="3.2" text-anchor="middle" fill="#444" stroke="#444" stroke-width="0.12">200</text>
<text transform="translate(216.1,243) rotate(-90)" font-size="3.4" text-anchor="middle" fill="#444" stroke="#444" stroke-width="0.12">Count</text>
<text x="225.6" y="280.7" font-size="3.6" font-weight="normal" text-anchor="middle" fill="#666">0</text>
<text x="253.1" y="280.7" font-size="3.6" font-weight="normal" text-anchor="middle" fill="#666">200</text>
<text x="280.6" y="280.7" font-size="3.6" font-weight="normal" text-anchor="middle" fill="#666">400</text>
<text x="258.1" y="284.6" font-size="3.4" font-weight="normal" text-anchor="middle" fill="#666">FSC-A</text>
<text x="289.6" y="284" font-size="3.2" font-weight="normal" text-anchor="middle" fill="#444">(x 10<tspan font-size="2.4" dy="-1">3</tspan>)</text>
<text x="322.2" y="203.6" font-size="10.8" font-weight="bold" text-anchor="start" fill="#000" stroke="#000" stroke-width="0.3" textLength="43.6" lengthAdjust="spacingAndGlyphs" >ABT-263</text>
<text x="340.20000000000005" y="207.9" font-size="3.7" text-anchor="middle" fill="#555">Tube12 : All Events</text>
<polygon points="309.0,275.3 309.0,275.3 309.4,275.3 309.8,275.3 310.2,275.3 310.6,275.3 311.0,275.3 311.4,275.3 311.8,275.3 312.2,275.3 312.6,275.3 313.0,275.3 313.4,275.3 313.8,275.3 314.2,275.3 314.6,275.3 315.0,275.3 315.4,275.3 315.8,275.1 316.2,274.6 316.6,274.0 317.0,274.0 317.4,273.5 317.8,273.5 318.2,273.0 318.6,273.4 319.0,272.9 319.4,272.9 319.8,272.7 320.2,272.9 320.6,272.9 321.0,273.2 321.4,272.7 321.8,273.7 322.2,273.6 322.6,272.8 323.0,273.5 323.4,273.6 323.8,273.5 324.2,273.1 324.6,273.1 325.0,273.2 325.4,273.5 325.8,273.4 326.2,273.2 326.6,273.5 327.0,273.2 327.4,273.7 327.8,273.1 328.2,273.4 328.6,273.4 329.0,273.6 329.4,274.0 329.8,273.1 330.2,273.6 330.6,273.5 331.0,273.5 331.4,273.3 331.8,273.6 332.2,273.1 332.6,273.4 333.0,273.7 333.4,273.7 333.8,272.9 334.2,273.8 334.6,273.7 335.0,273.9 335.4,273.6 335.8,273.7 336.2,273.3 336.6,273.9 337.0,274.0 337.4,273.2 337.8,274.4 338.2,273.7 338.6,274.2 339.0,273.6 339.4,273.9 339.8,273.5 340.2,273.7 340.6,273.5 341.0,273.9 341.4,273.6 341.8,273.5 342.2,273.4 342.6,273.2 343.0,273.2 343.4,272.7 343.8,273.7 344.2,273.2 344.6,273.3 345.0,273.2 345.4,272.9 345.8,272.7 346.2,272.8 346.6,273.4 347.0,273.4 347.4,273.4 347.8,273.1 348.2,273.5 348.6,273.1 349.0,273.4 349.4,273.1 349.8,273.0 350.2,272.6 350.6,272.9 351.0,273.0 351.4,272.7 351.8,273.1 352.2,272.5 352.6,272.8 353.0,272.6 353.4,272.8 353.8,272.7 354.2,272.8 354.6,272.9 355.0,272.8 355.4,272.6 355.8,273.2 356.2,272.8 356.6,272.6 357.0,272.9 357.4,272.6 357.8,272.7 358.2,273.2 358.6,273.1 359.0,272.6 359.4,272.7 359.8,272.9 360.2,272.9 360.6,273.6 361.0,273.0 361.4,273.5 361.8,273.1 362.2,273.1 362.6,273.1 363.0,273.0 363.4,273.1 363.8,273.4 364.2,273.3 364.6,272.9 365.0,272.6 365.4,273.5 365.8,273.1 366.2,272.9 366.6,273.1 367.0,273.3 367.4,272.9 367.8,272.8 368.2,273.2 368.6,273.5 369.0,273.7 369.4,273.2 369.8,273.1 370.2,273.6 370.6,273.6 371.0,273.7 371.4,273.2 371.8,274.0 372.2,273.6 372.6,274.1 373.0,273.8 373.4,273.9 373.8,273.8 374.2,274.2 374.6,274.4 375.0,274.4 375.4,274.6 375.8,274.1 376.2,274.4 376.6,274.9 377.0,275.3 377.0,275.3" fill="#1f5fe8" stroke="none"/>
<polygon points="309.0,275.3 309.0,211.3 309.4,211.3 309.8,211.3 310.2,211.3 310.6,211.3 311.0,211.3 311.4,211.3 311.8,216.6 312.2,227.9 312.6,244.7 313.0,255.6 313.4,263.2 313.8,266.4 314.2,268.3 314.6,268.9 315.0,270.3 315.4,270.7 315.8,272.0 316.2,272.8 316.6,272.8 317.0,273.7 317.4,274.1 317.8,274.5 318.2,274.7 318.6,274.9 319.0,275.3 319.4,275.3 319.8,275.3 320.2,275.3 320.6,275.3 321.0,275.3 321.4,275.3 321.8,275.3 322.2,275.3 322.6,275.3 323.0,275.3 323.4,275.3 323.8,275.3 324.2,275.3 324.6,275.3 325.0,275.3 325.4,275.3 325.8,275.3 326.2,275.3 326.6,275.3 327.0,275.3 327.4,275.3 327.8,275.3 328.2,275.3 328.6,275.3 329.0,275.3 329.4,275.3 329.8,275.3 330.2,275.3 330.6,275.3 331.0,275.3 331.4,275.3 331.8,275.3 332.2,275.3 332.6,275.3 333.0,275.3 333.4,275.3 333.8,275.3 334.2,275.3 334.6,275.3 335.0,275.3 335.4,275.3 335.8,275.3 336.2,275.3 336.6,275.3 337.0,275.3 337.4,275.3 337.8,275.3 338.2,275.3 338.6,275.3 339.0,275.3 339.4,275.3 339.8,275.3 340.2,275.3 340.6,275.3 341.0,275.3 341.4,275.3 341.8,275.3 342.2,275.3 342.6,275.3 343.0,275.3 343.4,275.3 343.8,275.3 344.2,275.3 344.6,275.3 345.0,275.3 345.4,275.3 345.8,275.3 346.2,275.3 346.6,275.3 347.0,275.3 347.4,275.3 347.8,275.3 348.2,275.3 348.6,275.3 349.0,275.3 349.4,275.3 349.8,275.3 350.2,275.3 350.6,275.3 351.0,275.3 351.4,275.3 351.8,275.3 352.2,275.3 352.6,275.3 353.0,275.3 353.4,275.3 353.8,275.3 354.2,275.3 354.6,275.3 355.0,275.3 355.4,275.3 355.8,275.3 356.2,275.3 356.6,275.3 357.0,275.3 357.4,275.3 357.8,275.3 358.2,275.3 358.6,275.3 359.0,275.3 359.4,275.3 359.8,275.3 360.2,275.3 360.6,275.3 361.0,275.3 361.4,275.3 361.8,275.3 362.2,275.3 362.6,275.3 363.0,275.3 363.4,275.3 363.8,275.3 364.2,275.3 364.6,275.3 365.0,275.3 365.4,275.3 365.8,275.3 366.2,275.3 366.6,275.3 367.0,275.3 367.4,275.3 367.8,275.3 368.2,275.3 368.6,275.3 369.0,275.3 369.4,275.3 369.8,275.3 370.2,275.3 370.6,275.3 371.0,275.3 371.4,275.3 371.8,275.3 372.2,275.3 372.6,275.3 373.0,275.3 373.4,275.3 373.8,275.3 374.2,275.3 374.6,275.3 375.0,275.3 375.4,275.3 375.8,275.3 376.2,275.3 376.6,275.3 377.0,275.3 377.0,275.3" fill="#6e6e6e" stroke="none"/>
<polyline points="309.0,211.3 309.4,211.3 309.8,211.3 310.2,211.3 310.6,211.3 311.0,211.3 311.4,211.3 311.8,216.6 312.2,227.9 312.6,244.7 313.0,255.6 313.4,263.2 313.8,266.4 314.2,268.3 314.6,268.9 315.0,270.3 315.4,270.7 315.8,272.0 316.2,272.8 316.6,272.8 317.0,273.7 317.4,274.1 317.8,274.5 318.2,274.7 318.6,274.9 319.0,275.3 319.4,275.3 319.8,275.3 320.2,275.3 320.6,275.3 321.0,275.3 321.4,275.3 321.8,275.3 322.2,275.3 322.6,275.3 323.0,275.3 323.4,275.3 323.8,275.3 324.2,275.3 324.6,275.3 325.0,275.3 325.4,275.3 325.8,275.3 326.2,275.3 326.6,275.3 327.0,275.3 327.4,275.3 327.8,275.3 328.2,275.3 328.6,275.3 329.0,275.3 329.4,275.3 329.8,275.3 330.2,275.3 330.6,275.3 331.0,275.3 331.4,275.3 331.8,275.3 332.2,275.3 332.6,275.3 333.0,275.3 333.4,275.3 333.8,275.3 334.2,275.3 334.6,275.3 335.0,275.3 335.4,275.3 335.8,275.3 336.2,275.3 336.6,275.3 337.0,275.3 337.4,275.3 337.8,275.3 338.2,275.3 338.6,275.3 339.0,275.3 339.4,275.3 339.8,275.3 340.2,275.3 340.6,275.3 341.0,275.3 341.4,275.3 341.8,275.3 342.2,275.3 342.6,275.3 343.0,275.3 343.4,275.3 343.8,275.3 344.2,275.3 344.6,275.3 345.0,275.3 345.4,275.3 345.8,275.3 346.2,275.3 346.6,275.3 347.0,275.3 347.4,275.3 347.8,275.3 348.2,275.3 348.6,275.3 349.0,275.3 349.4,275.3 349.8,275.3 350.2,275.3 350.6,275.3 351.0,275.3 351.4,275.3 351.8,275.3 352.2,275.3 352.6,275.3 353.0,275.3 353.4,275.3 353.8,275.3 354.2,275.3 354.6,275.3 355.0,275.3 355.4,275.3 355.8,275.3 356.2,275.3 356.6,275.3 357.0,275.3 357.4,275.3 357.8,275.3 358.2,275.3 358.6,275.3 359.0,275.3 359.4,275.3 359.8,275.3 360.2,275.3 360.6,275.3 361.0,275.3 361.4,275.3 361.8,275.3 362.2,275.3 362.6,275.3 363.0,275.3 363.4,275.3 363.8,275.3 364.2,275.3 364.6,275.3 365.0,275.3 365.4,275.3 365.8,275.3 366.2,275.3 366.6,275.3 367.0,275.3 367.4,275.3 367.8,275.3 368.2,275.3 368.6,275.3 369.0,275.3 369.4,275.3 369.8,275.3 370.2,275.3 370.6,275.3 371.0,275.3 371.4,275.3 371.8,275.3 372.2,275.3 372.6,275.3 373.0,275.3 373.4,275.3 373.8,275.3 374.2,275.3 374.6,275.3 375.0,275.3 375.4,275.3 375.8,275.3 376.2,275.3 376.6,275.3 377.0,275.3" fill="none" stroke="#555" stroke-width="0.3" stroke-linejoin="round"/>
<rect x="308.6" y="210.0" width="69.0" height="65.30000000000001" fill="none" stroke="#8a8a8a" stroke-width="0.7"/>
<polyline points="308.6,210.0 308.6,275.3 377.6,275.3" fill="none" stroke="#333" stroke-width="0.8"/>
<line x1="324.1" y1="221" x2="373.8" y2="221" stroke="#6aa6ee" stroke-width="0.7"/>
<line x1="324.1" y1="219.5" x2="324.1" y2="222.5" stroke="#6aa6ee" stroke-width="0.6"/>
<line x1="373.8" y1="219.5" x2="373.8" y2="222.5" stroke="#6aa6ee" stroke-width="0.6"/>
<text x="324.1" y="217.4" font-size="4.0" fill="#6aa6ee" stroke="#6aa6ee" stroke-width="0.1">P3(10.77%)</text>
<text x="348.7" y="239.3" font-size="10.4" font-weight="bold" text-anchor="start" fill="#000" stroke="#000" stroke-width="0.3" textLength="19.1" lengthAdjust="spacingAndGlyphs" >10.8</text>
<line x1="307.1" y1="224" x2="308.6" y2="224" stroke="#555" stroke-width="0.4"/>
<text transform="translate(305.6,224) rotate(-90)" font-size="3.2" text-anchor="middle" fill="#444" stroke="#444" stroke-width="0.12">400</text>
<line x1="307.1" y1="251" x2="308.6" y2="251" stroke="#555" stroke-width="0.4"/>
<text transform="translate(305.6,251) rotate(-90)" font-size="3.2" text-anchor="middle" fill="#444" stroke="#444" stroke-width="0.12">200</text>
<text transform="translate(299.1,243) rotate(-90)" font-size="3.4" text-anchor="middle" fill="#444" stroke="#444" stroke-width="0.12">Count</text>
<text x="308.6" y="280.7" font-size="3.6" font-weight="normal" text-anchor="middle" fill="#666">0</text>
<text x="336.1" y="280.7" font-size="3.6" font-weight="normal" text-anchor="middle" fill="#666">200</text>
<text x="363.6" y="280.7" font-size="3.6" font-weight="normal" text-anchor="middle" fill="#666">400</text>
<text x="341.1" y="284.6" font-size="3.4" font-weight="normal" text-anchor="middle" fill="#666">FSC-A</text>
<text x="372.6" y="284" font-size="3.2" font-weight="normal" text-anchor="middle" fill="#444">(x 10<tspan font-size="2.4" dy="-1">3</tspan>)</text>
<text x="412.3" y="203.6" font-size="10.8" font-weight="bold" text-anchor="start" fill="#000" stroke="#000" stroke-width="0.3" textLength="23.1" lengthAdjust="spacingAndGlyphs" >NAC</text>
<text x="422.1" y="208.9" font-size="3.7" text-anchor="middle" fill="#555">Tube15 : All Events</text>
<polygon points="391.6,275.3 391.6,275.3 392.0,275.3 392.4,275.3 392.8,275.3 393.2,275.3 393.6,275.3 394.0,275.3 394.4,275.3 394.8,275.3 395.2,275.3 395.6,275.3 396.0,275.3 396.4,275.3 396.8,275.3 397.2,275.2 397.6,275.0 398.0,275.1 398.4,274.3 398.8,274.0 399.2,274.1 399.6,274.1 400.0,274.3 400.4,273.7 400.8,274.2 401.2,274.1 401.6,274.3 402.0,274.4 402.4,274.0 402.8,273.9 403.2,274.3 403.6,274.1 404.0,274.0 404.4,274.0 404.8,274.2 405.2,274.3 405.6,274.1 406.0,273.8 406.4,273.7 406.8,273.9 407.2,273.4 407.6,274.1 408.0,273.9 408.4,273.7 408.8,273.7 409.2,273.6 409.6,273.9 410.0,273.8 410.4,274.0 410.8,273.4 411.2,273.7 411.6,273.5 412.0,273.2 412.4,273.4 412.8,273.6 413.2,273.3 413.6,273.0 414.0,272.6 414.4,272.8 414.8,273.0 415.2,271.9 415.6,272.4 416.0,272.5 416.4,272.7 416.8,272.7 417.2,272.3 417.6,272.1 418.0,272.3 418.4,271.9 418.8,272.0 419.2,272.4 419.6,271.2 420.0,272.3 420.4,271.2 420.8,271.6 421.2,272.1 421.6,271.4 422.0,270.4 422.4,271.3 422.8,270.8 423.2,269.7 423.6,270.7 424.0,269.6 424.4,270.5 424.8,269.6 425.2,269.6 425.6,269.3 426.0,269.5 426.4,268.1 426.8,269.7 427.2,267.7 427.6,268.4 428.0,268.7 428.4,267.6 428.8,267.4 429.2,267.6 429.6,267.8 430.0,265.9 430.4,267.0 430.8,267.7 431.2,265.3 431.6,266.0 432.0,266.4 432.4,267.2 432.8,265.3 433.2,266.3 433.6,266.1 434.0,266.0 434.4,266.7 434.8,263.4 435.2,264.8 435.6,264.0 436.0,265.4 436.4,263.3 436.8,267.4 437.2,265.0 437.6,267.3 438.0,264.5 438.4,264.3 438.8,264.6 439.2,266.5 439.6,265.4 440.0,265.8 440.4,265.5 440.8,264.9 441.2,266.5 441.6,265.5 442.0,265.7 442.4,265.8 442.8,267.3 443.2,267.4 443.6,267.3 444.0,267.9 444.4,267.8 444.8,268.0 445.2,267.4 445.6,268.3 446.0,267.7 446.4,268.8 446.8,267.7 447.2,269.0 447.6,269.3 448.0,270.2 448.4,269.4 448.8,269.6 449.2,270.5 449.6,270.4 450.0,270.3 450.4,271.6 450.8,271.3 451.2,271.9 451.6,272.1 452.0,272.7 452.4,272.7 452.8,272.9 453.2,272.9 453.6,273.4 454.0,273.5 454.4,273.0 454.8,273.7 455.2,273.7 455.6,273.9 456.0,274.4 456.4,274.3 456.8,274.4 457.2,275.0 457.6,274.2 458.0,275.3 458.4,275.3 458.4,275.3" fill="#1f5fe8" stroke="none"/>
<polygon points="391.6,275.3 391.6,211.3 392.0,211.3 392.4,211.3 392.8,211.3 393.2,216.3 393.6,256.8 394.0,266.0 394.4,269.0 394.8,271.2 395.2,272.5 395.6,273.3 396.0,274.1 396.4,274.5 396.8,274.8 397.2,275.0 397.6,275.3 398.0,275.3 398.4,275.3 398.8,275.3 399.2,275.3 399.6,275.3 400.0,275.3 400.4,275.3 400.8,275.3 401.2,275.3 401.6,275.3 402.0,275.3 402.4,275.3 402.8,275.3 403.2,275.3 403.6,275.3 404.0,275.3 404.4,275.3 404.8,275.3 405.2,275.3 405.6,275.3 406.0,275.3 406.4,275.3 406.8,275.3 407.2,275.3 407.6,275.3 408.0,275.3 408.4,275.3 408.8,275.3 409.2,275.3 409.6,275.3 410.0,275.3 410.4,275.3 410.8,275.3 411.2,275.3 411.6,275.3 412.0,275.3 412.4,275.3 412.8,275.3 413.2,275.3 413.6,275.3 414.0,275.3 414.4,275.3 414.8,275.3 415.2,275.3 415.6,275.3 416.0,275.3 416.4,275.3 416.8,275.3 417.2,275.3 417.6,275.3 418.0,275.3 418.4,275.3 418.8,275.3 419.2,275.3 419.6,275.3 420.0,275.3 420.4,275.3 420.8,275.3 421.2,275.3 421.6,275.3 422.0,275.3 422.4,275.3 422.8,275.3 423.2,275.3 423.6,275.3 424.0,275.3 424.4,275.3 424.8,275.3 425.2,275.3 425.6,275.3 426.0,275.3 426.4,275.3 426.8,275.3 427.2,275.3 427.6,275.3 428.0,275.3 428.4,275.3 428.8,275.3 429.2,275.3 429.6,275.3 430.0,275.3 430.4,275.3 430.8,275.3 431.2,275.3 431.6,275.3 432.0,275.3 432.4,275.3 432.8,275.3 433.2,275.3 433.6,275.3 434.0,275.3 434.4,275.3 434.8,275.3 435.2,275.3 435.6,275.3 436.0,275.3 436.4,275.3 436.8,275.3 437.2,275.3 437.6,275.3 438.0,275.3 438.4,275.3 438.8,275.3 439.2,275.3 439.6,275.3 440.0,275.3 440.4,275.3 440.8,275.3 441.2,275.3 441.6,275.3 442.0,275.3 442.4,275.3 442.8,275.3 443.2,275.3 443.6,275.3 444.0,275.3 444.4,275.3 444.8,275.3 445.2,275.3 445.6,275.3 446.0,275.3 446.4,275.3 446.8,275.3 447.2,275.3 447.6,275.3 448.0,275.3 448.4,275.3 448.8,275.3 449.2,275.3 449.6,275.3 450.0,275.3 450.4,275.3 450.8,275.3 451.2,275.3 451.6,275.3 452.0,275.3 452.4,275.3 452.8,275.3 453.2,275.3 453.6,275.3 454.0,275.3 454.4,275.3 454.8,275.3 455.2,275.3 455.6,275.3 456.0,275.3 456.4,275.3 456.8,275.3 457.2,275.3 457.6,275.3 458.0,275.3 458.4,275.3 458.4,275.3" fill="#6e6e6e" stroke="none"/>
<polyline points="391.6,211.3 392.0,211.3 392.4,211.3 392.8,211.3 393.2,216.3 393.6,256.8 394.0,266.0 394.4,269.0 394.8,271.2 395.2,272.5 395.6,273.3 396.0,274.1 396.4,274.5 396.8,274.8 397.2,275.0 397.6,275.3 398.0,275.3 398.4,275.3 398.8,275.3 399.2,275.3 399.6,275.3 400.0,275.3 400.4,275.3 400.8,275.3 401.2,275.3 401.6,275.3 402.0,275.3 402.4,275.3 402.8,275.3 403.2,275.3 403.6,275.3 404.0,275.3 404.4,275.3 404.8,275.3 405.2,275.3 405.6,275.3 406.0,275.3 406.4,275.3 406.8,275.3 407.2,275.3 407.6,275.3 408.0,275.3 408.4,275.3 408.8,275.3 409.2,275.3 409.6,275.3 410.0,275.3 410.4,275.3 410.8,275.3 411.2,275.3 411.6,275.3 412.0,275.3 412.4,275.3 412.8,275.3 413.2,275.3 413.6,275.3 414.0,275.3 414.4,275.3 414.8,275.3 415.2,275.3 415.6,275.3 416.0,275.3 416.4,275.3 416.8,275.3 417.2,275.3 417.6,275.3 418.0,275.3 418.4,275.3 418.8,275.3 419.2,275.3 419.6,275.3 420.0,275.3 420.4,275.3 420.8,275.3 421.2,275.3 421.6,275.3 422.0,275.3 422.4,275.3 422.8,275.3 423.2,275.3 423.6,275.3 424.0,275.3 424.4,275.3 424.8,275.3 425.2,275.3 425.6,275.3 426.0,275.3 426.4,275.3 426.8,275.3 427.2,275.3 427.6,275.3 428.0,275.3 428.4,275.3 428.8,275.3 429.2,275.3 429.6,275.3 430.0,275.3 430.4,275.3 430.8,275.3 431.2,275.3 431.6,275.3 432.0,275.3 432.4,275.3 432.8,275.3 433.2,275.3 433.6,275.3 434.0,275.3 434.4,275.3 434.8,275.3 435.2,275.3 435.6,275.3 436.0,275.3 436.4,275.3 436.8,275.3 437.2,275.3 437.6,275.3 438.0,275.3 438.4,275.3 438.8,275.3 439.2,275.3 439.6,275.3 440.0,275.3 440.4,275.3 440.8,275.3 441.2,275.3 441.6,275.3 442.0,275.3 442.4,275.3 442.8,275.3 443.2,275.3 443.6,275.3 444.0,275.3 444.4,275.3 444.8,275.3 445.2,275.3 445.6,275.3 446.0,275.3 446.4,275.3 446.8,275.3 447.2,275.3 447.6,275.3 448.0,275.3 448.4,275.3 448.8,275.3 449.2,275.3 449.6,275.3 450.0,275.3 450.4,275.3 450.8,275.3 451.2,275.3 451.6,275.3 452.0,275.3 452.4,275.3 452.8,275.3 453.2,275.3 453.6,275.3 454.0,275.3 454.4,275.3 454.8,275.3 455.2,275.3 455.6,275.3 456.0,275.3 456.4,275.3 456.8,275.3 457.2,275.3 457.6,275.3 458.0,275.3 458.4,275.3" fill="none" stroke="#555" stroke-width="0.3" stroke-linejoin="round"/>
<rect x="391.2" y="211" width="67.60000000000002" height="64.30000000000001" fill="none" stroke="#8a8a8a" stroke-width="0.7"/>
<polyline points="391.2,211 391.2,275.3 458.8,275.3" fill="none" stroke="#333" stroke-width="0.8"/>
<line x1="406.7" y1="221" x2="455.0" y2="221" stroke="#6aa6ee" stroke-width="0.7"/>
<line x1="406.7" y1="219.5" x2="406.7" y2="222.5" stroke="#6aa6ee" stroke-width="0.6"/>
<line x1="455.0" y1="219.5" x2="455.0" y2="222.5" stroke="#6aa6ee" stroke-width="0.6"/>
<text x="406.7" y="217.4" font-size="4.0" fill="#6aa6ee" stroke="#6aa6ee" stroke-width="0.1">P3(52.51%)</text>
<text x="429.2" y="239.3" font-size="10.4" font-weight="bold" text-anchor="start" fill="#000" stroke="#000" stroke-width="0.3" textLength="18.5" lengthAdjust="spacingAndGlyphs" >52.5</text>
<line x1="389.7" y1="224" x2="391.2" y2="224" stroke="#555" stroke-width="0.4"/>
<text transform="translate(388.2,224) rotate(-90)" font-size="3.2" text-anchor="middle" fill="#444" stroke="#444" stroke-width="0.12">400</text>
<line x1="389.7" y1="251" x2="391.2" y2="251" stroke="#555" stroke-width="0.4"/>
<text transform="translate(388.2,251) rotate(-90)" font-size="3.2" text-anchor="middle" fill="#444" stroke="#444" stroke-width="0.12">200</text>
<text transform="translate(381.7,243) rotate(-90)" font-size="3.4" text-anchor="middle" fill="#444" stroke="#444" stroke-width="0.12">Count</text>
<text x="391.2" y="280.7" font-size="3.6" font-weight="normal" text-anchor="middle" fill="#666">0</text>
<text x="418.14202898550724" y="280.7" font-size="3.6" font-weight="normal" text-anchor="middle" fill="#666">200</text>
<text x="445.0840579710145" y="280.7" font-size="3.6" font-weight="normal" text-anchor="middle" fill="#666">400</text>
<text x="423.0405797101449" y="284.6" font-size="3.4" font-weight="normal" text-anchor="middle" fill="#666">FSC-A</text>
<text x="453.9014492753623" y="284" font-size="3.2" font-weight="normal" text-anchor="middle" fill="#444">(x 10<tspan font-size="2.4" dy="-1">3</tspan>)</text>
<text x="462.6" y="203.6" font-size="10.8" font-weight="bold" text-anchor="start" fill="#000" stroke="#000" stroke-width="0.3" textLength="78.5" lengthAdjust="spacingAndGlyphs" >NAC + ABT-263</text>
<text x="503.15" y="208.9" font-size="3.7" text-anchor="middle" fill="#555">Tube18 : All Events</text>
<polygon points="472.6,275.3 472.6,275.3 473.0,275.3 473.4,275.3 473.8,275.3 474.2,275.3 474.6,275.3 475.0,275.3 475.4,275.3 475.8,275.3 476.2,275.3 476.6,275.3 477.0,275.3 477.4,275.3 477.8,275.3 478.2,275.3 478.6,275.3 479.0,275.3 479.4,275.0 479.8,274.7 480.2,273.8 480.6,273.9 481.0,273.3 481.4,273.2 481.8,273.5 482.2,272.8 482.6,273.3 483.0,273.0 483.4,273.4 483.8,273.2 484.2,273.2 484.6,272.9 485.0,273.3 485.4,273.4 485.8,273.0 486.2,273.3 486.6,273.6 487.0,273.3 487.4,273.3 487.8,273.1 488.2,273.1 488.6,273.1 489.0,273.0 489.4,273.6 489.8,273.2 490.2,273.4 490.6,273.6 491.0,273.4 491.4,273.8 491.8,273.5 492.2,273.8 492.6,273.4 493.0,273.4 493.4,274.0 493.8,273.4 494.2,273.6 494.6,273.3 495.0,273.3 495.4,273.7 495.8,273.6 496.2,273.7 496.6,273.2 497.0,273.3 497.4,273.2 497.8,273.7 498.2,273.4 498.6,273.6 499.0,273.4 499.4,273.7 499.8,273.8 500.2,273.3 500.6,274.0 501.0,273.5 501.4,273.1 501.8,274.0 502.2,273.7 502.6,273.5 503.0,274.1 503.4,273.5 503.8,273.9 504.2,274.0 504.6,273.5 505.0,273.7 505.4,273.3 505.8,273.3 506.2,273.2 506.6,273.6 507.0,273.6 507.4,273.3 507.8,273.8 508.2,273.2 508.6,273.1 509.0,272.9 509.4,273.3 509.8,273.5 510.2,272.9 510.6,273.5 511.0,273.0 511.4,273.1 511.8,273.6 512.2,273.1 512.6,273.0 513.0,272.9 513.4,272.9 513.8,273.4 514.2,272.8 514.6,273.1 515.0,273.0 515.4,272.6 515.8,273.2 516.2,272.5 516.6,272.7 517.0,273.2 517.4,272.9 517.8,273.0 518.2,272.9 518.6,272.6 519.0,272.4 519.4,272.2 519.8,272.7 520.2,272.4 520.6,272.7 521.0,272.6 521.4,272.6 521.8,272.3 522.2,272.9 522.6,272.7 523.0,272.9 523.4,272.6 523.8,272.6 524.2,272.6 524.6,273.3 525.0,272.9 525.4,272.9 525.8,272.7 526.2,273.1 526.6,272.7 527.0,272.8 527.4,272.9 527.8,273.6 528.2,273.3 528.6,272.8 529.0,273.1 529.4,273.4 529.8,273.5 530.2,273.2 530.6,273.1 531.0,273.6 531.4,273.3 531.8,273.0 532.2,273.0 532.6,273.4 533.0,273.7 533.4,273.3 533.8,273.8 534.2,273.3 534.6,273.5 535.0,274.2 535.4,273.9 535.8,274.0 536.2,274.5 536.6,273.7 537.0,274.2 537.4,274.3 537.8,274.2 538.2,274.5 538.6,274.6 539.0,275.3 539.4,275.3 539.4,275.3" fill="#1f5fe8" stroke="none"/>
<polygon points="472.6,275.3 472.6,211.3 473.0,211.3 473.4,211.3 473.8,211.3 474.2,213.7 474.6,219.8 475.0,227.6 475.4,234.9 475.8,241.1 476.2,246.0 476.6,250.1 477.0,255.6 477.4,260.3 477.8,263.4 478.2,266.0 478.6,267.5 479.0,268.9 479.4,269.9 479.8,271.0 480.2,271.6 480.6,272.6 481.0,272.9 481.4,273.8 481.8,274.4 482.2,274.5 482.6,274.7 483.0,275.3 483.4,275.3 483.8,275.3 484.2,275.3 484.6,275.3 485.0,275.3 485.4,275.3 485.8,275.3 486.2,275.3 486.6,275.3 487.0,275.3 487.4,275.3 487.8,275.3 488.2,275.3 488.6,275.3 489.0,275.3 489.4,275.3 489.8,275.3 490.2,275.3 490.6,275.3 491.0,275.3 491.4,275.3 491.8,275.3 492.2,275.3 492.6,275.3 493.0,275.3 493.4,275.3 493.8,275.3 494.2,275.3 494.6,275.3 495.0,275.3 495.4,275.3 495.8,275.3 496.2,275.3 496.6,275.3 497.0,275.3 497.4,275.3 497.8,275.3 498.2,275.3 498.6,275.3 499.0,275.3 499.4,275.3 499.8,275.3 500.2,275.3 500.6,275.3 501.0,275.3 501.4,275.3 501.8,275.3 502.2,275.3 502.6,275.3 503.0,275.3 503.4,275.3 503.8,275.3 504.2,275.3 504.6,275.3 505.0,275.3 505.4,275.3 505.8,275.3 506.2,275.3 506.6,275.3 507.0,275.3 507.4,275.3 507.8,275.3 508.2,275.3 508.6,275.3 509.0,275.3 509.4,275.3 509.8,275.3 510.2,275.3 510.6,275.3 511.0,275.3 511.4,275.3 511.8,275.3 512.2,275.3 512.6,275.3 513.0,275.3 513.4,275.3 513.8,275.3 514.2,275.3 514.6,275.3 515.0,275.3 515.4,275.3 515.8,275.3 516.2,275.3 516.6,275.3 517.0,275.3 517.4,275.3 517.8,275.3 518.2,275.3 518.6,275.3 519.0,275.3 519.4,275.3 519.8,275.3 520.2,275.3 520.6,275.3 521.0,275.3 521.4,275.3 521.8,275.3 522.2,275.3 522.6,275.3 523.0,275.3 523.4,275.3 523.8,275.3 524.2,275.3 524.6,275.3 525.0,275.3 525.4,275.3 525.8,275.3 526.2,275.3 526.6,275.3 527.0,275.3 527.4,275.3 527.8,275.3 528.2,275.3 528.6,275.3 529.0,275.3 529.4,275.3 529.8,275.3 530.2,275.3 530.6,275.3 531.0,275.3 531.4,275.3 531.8,275.3 532.2,275.3 532.6,275.3 533.0,275.3 533.4,275.3 533.8,275.3 534.2,275.3 534.6,275.3 535.0,275.3 535.4,275.3 535.8,275.3 536.2,275.3 536.6,275.3 537.0,275.3 537.4,275.3 537.8,275.3 538.2,275.3 538.6,275.3 539.0,275.3 539.4,275.3 539.4,275.3" fill="#6e6e6e" stroke="none"/>
<polyline points="472.6,211.3 473.0,211.3 473.4,211.3 473.8,211.3 474.2,213.7 474.6,219.8 475.0,227.6 475.4,234.9 475.8,241.1 476.2,246.0 476.6,250.1 477.0,255.6 477.4,260.3 477.8,263.4 478.2,266.0 478.6,267.5 479.0,268.9 479.4,269.9 479.8,271.0 480.2,271.6 480.6,272.6 481.0,272.9 481.4,273.8 481.8,274.4 482.2,274.5 482.6,274.7 483.0,275.3 483.4,275.3 483.8,275.3 484.2,275.3 484.6,275.3 485.0,275.3 485.4,275.3 485.8,275.3 486.2,275.3 486.6,275.3 487.0,275.3 487.4,275.3 487.8,275.3 488.2,275.3 488.6,275.3 489.0,275.3 489.4,275.3 489.8,275.3 490.2,275.3 490.6,275.3 491.0,275.3 491.4,275.3 491.8,275.3 492.2,275.3 492.6,275.3 493.0,275.3 493.4,275.3 493.8,275.3 494.2,275.3 494.6,275.3 495.0,275.3 495.4,275.3 495.8,275.3 496.2,275.3 496.6,275.3 497.0,275.3 497.4,275.3 497.8,275.3 498.2,275.3 498.6,275.3 499.0,275.3 499.4,275.3 499.8,275.3 500.2,275.3 500.6,275.3 501.0,275.3 501.4,275.3 501.8,275.3 502.2,275.3 502.6,275.3 503.0,275.3 503.4,275.3 503.8,275.3 504.2,275.3 504.6,275.3 505.0,275.3 505.4,275.3 505.8,275.3 506.2,275.3 506.6,275.3 507.0,275.3 507.4,275.3 507.8,275.3 508.2,275.3 508.6,275.3 509.0,275.3 509.4,275.3 509.8,275.3 510.2,275.3 510.6,275.3 511.0,275.3 511.4,275.3 511.8,275.3 512.2,275.3 512.6,275.3 513.0,275.3 513.4,275.3 513.8,275.3 514.2,275.3 514.6,275.3 515.0,275.3 515.4,275.3 515.8,275.3 516.2,275.3 516.6,275.3 517.0,275.3 517.4,275.3 517.8,275.3 518.2,275.3 518.6,275.3 519.0,275.3 519.4,275.3 519.8,275.3 520.2,275.3 520.6,275.3 521.0,275.3 521.4,275.3 521.8,275.3 522.2,275.3 522.6,275.3 523.0,275.3 523.4,275.3 523.8,275.3 524.2,275.3 524.6,275.3 525.0,275.3 525.4,275.3 525.8,275.3 526.2,275.3 526.6,275.3 527.0,275.3 527.4,275.3 527.8,275.3 528.2,275.3 528.6,275.3 529.0,275.3 529.4,275.3 529.8,275.3 530.2,275.3 530.6,275.3 531.0,275.3 531.4,275.3 531.8,275.3 532.2,275.3 532.6,275.3 533.0,275.3 533.4,275.3 533.8,275.3 534.2,275.3 534.6,275.3 535.0,275.3 535.4,275.3 535.8,275.3 536.2,275.3 536.6,275.3 537.0,275.3 537.4,275.3 537.8,275.3 538.2,275.3 538.6,275.3 539.0,275.3 539.4,275.3" fill="none" stroke="#555" stroke-width="0.3" stroke-linejoin="round"/>
<rect x="472.2" y="211" width="67.69999999999999" height="64.30000000000001" fill="none" stroke="#8a8a8a" stroke-width="0.7"/>
<polyline points="472.2,211 472.2,275.3 539.9,275.3" fill="none" stroke="#333" stroke-width="0.8"/>
<line x1="487.7" y1="221" x2="536.1" y2="221" stroke="#6aa6ee" stroke-width="0.7"/>
<line x1="487.7" y1="219.5" x2="487.7" y2="222.5" stroke="#6aa6ee" stroke-width="0.6"/>
<line x1="536.1" y1="219.5" x2="536.1" y2="222.5" stroke="#6aa6ee" stroke-width="0.6"/>
<text x="487.7" y="217.4" font-size="4.0" fill="#6aa6ee" stroke="#6aa6ee" stroke-width="0.1">P3(11.69%)</text>
<text x="513.5" y="239.3" font-size="10.4" font-weight="bold" text-anchor="start" fill="#000" stroke="#000" stroke-width="0.3" textLength="17.7" lengthAdjust="spacingAndGlyphs" >11.7</text>
<line x1="470.7" y1="224" x2="472.2" y2="224" stroke="#555" stroke-width="0.4"/>
<text transform="translate(469.2,224) rotate(-90)" font-size="3.2" text-anchor="middle" fill="#444" stroke="#444" stroke-width="0.12">400</text>
<line x1="470.7" y1="251" x2="472.2" y2="251" stroke="#555" stroke-width="0.4"/>
<text transform="translate(469.2,251) rotate(-90)" font-size="3.2" text-anchor="middle" fill="#444" stroke="#444" stroke-width="0.12">200</text>
<text transform="translate(462.7,243) rotate(-90)" font-size="3.4" text-anchor="middle" fill="#444" stroke="#444" stroke-width="0.12">Count</text>
<text x="472.2" y="280.7" font-size="3.6" font-weight="normal" text-anchor="middle" fill="#666">0</text>
<text x="499.181884057971" y="280.7" font-size="3.6" font-weight="normal" text-anchor="middle" fill="#666">200</text>
<text x="526.163768115942" y="280.7" font-size="3.6" font-weight="normal" text-anchor="middle" fill="#666">400</text>
<text x="504.0876811594203" y="284.6" font-size="3.4" font-weight="normal" text-anchor="middle" fill="#666">FSC-A</text>
<text x="534.9942028985507" y="284" font-size="3.2" font-weight="normal" text-anchor="middle" fill="#444">(x 10<tspan font-size="2.4" dy="-1">3</tspan>)</text>
<line x1="90.3" y1="420.9" x2="264" y2="420.9" stroke="#d4d4d4" stroke-width="0.8"/>
<line x1="90.3" y1="407.1" x2="264" y2="407.1" stroke="#d4d4d4" stroke-width="0.8"/>
<line x1="90.3" y1="393.3" x2="264" y2="393.3" stroke="#d4d4d4" stroke-width="0.8"/>
<line x1="90.3" y1="379.5" x2="264" y2="379.5" stroke="#d4d4d4" stroke-width="0.8"/>
<line x1="90.3" y1="365.7" x2="264" y2="365.7" stroke="#d4d4d4" stroke-width="0.8"/>
<line x1="90.3" y1="351.9" x2="264" y2="351.9" stroke="#d4d4d4" stroke-width="0.8"/>
<line x1="90.3" y1="338.1" x2="264" y2="338.1" stroke="#d4d4d4" stroke-width="0.8"/>
<line x1="90.3" y1="337.8" x2="90.3" y2="434.7" stroke="#111" stroke-width="1"/>
<line x1="87.5" y1="435.2" x2="262" y2="435.2" stroke="#111" stroke-width="1.1"/>
<line x1="87.5" y1="434.7" x2="90.3" y2="434.7" stroke="#111" stroke-width="0.8"/>
<text x="82.1" y="437.59999999999997" font-size="8.6" font-weight="bold" text-anchor="end" fill="#000" stroke="#000" stroke-width="0.25" textLength="4.5" lengthAdjust="spacingAndGlyphs" >0</text>
<line x1="87.5" y1="420.9" x2="90.3" y2="420.9" stroke="#111" stroke-width="0.8"/>
<text x="82.1" y="423.79999999999995" font-size="8.6" font-weight="bold" text-anchor="end" fill="#000" stroke="#000" stroke-width="0.25" textLength="8.9" lengthAdjust="spacingAndGlyphs" >20</text>
<line x1="87.5" y1="407.1" x2="90.3" y2="407.1" stroke="#111" stroke-width="0.8"/>
<text x="82.1" y="409.99999999999994" font-size="8.6" font-weight="bold" text-anchor="end" fill="#000" stroke="#000" stroke-width="0.25" textLength="8.9" lengthAdjust="spacingAndGlyphs" >40</text>
<line x1="87.5" y1="393.3" x2="90.3" y2="393.3" stroke="#111" stroke-width="0.8"/>
<text x="82.1" y="396.2" font-size="8.6" font-weight="bold" text-anchor="end" fill="#000" stroke="#000" stroke-width="0.25" textLength="8.9" lengthAdjust="spacingAndGlyphs" >60</text>
<line x1="87.5" y1="379.5" x2="90.3" y2="379.5" stroke="#111" stroke-width="0.8"/>
<text x="82.1" y="382.4" font-size="8.6" font-weight="bold" text-anchor="end" fill="#000" stroke="#000" stroke-width="0.25" textLength="8.9" lengthAdjust="spacingAndGlyphs" >80</text>
<line x1="87.5" y1="365.7" x2="90.3" y2="365.7" stroke="#111" stroke-width="0.8"/>
<text x="82.1" y="368.59999999999997" font-size="8.6" font-weight="bold" text-anchor="end" fill="#000" stroke="#000" stroke-width="0.25" textLength="13.2" lengthAdjust="spacingAndGlyphs" >100</text>
<line x1="87.5" y1="351.9" x2="90.3" y2="351.9" stroke="#111" stroke-width="0.8"/>
<text x="82.1" y="354.79999999999995" font-size="8.6" font-weight="bold" text-anchor="end" fill="#000" stroke="#000" stroke-width="0.25" textLength="13.2" lengthAdjust="spacingAndGlyphs" >120</text>
<line x1="87.5" y1="338.1" x2="90.3" y2="338.1" stroke="#111" stroke-width="0.8"/>
<text x="82.1" y="341.0" font-size="8.6" font-weight="bold" text-anchor="end" fill="#000" stroke="#000" stroke-width="0.25" textLength="13.2" lengthAdjust="spacingAndGlyphs" >140</text>
<text transform="translate(48.2,416.4) rotate(-90)" font-size="9.4" font-weight="bold" text-anchor="start" fill="#000" stroke="#000" stroke-width="0.25" textLength="66" lengthAdjust="spacingAndGlyphs">Relative viable</text>
<text transform="translate(60.3,416.4) rotate(-90)" font-size="9.6" font-weight="bold" text-anchor="start" fill="#000" stroke="#000" stroke-width="0.25" textLength="36.4" lengthAdjust="spacingAndGlyphs">cells (%)</text>
<rect x="98.9" y="365.7" width="7.8" height="69.0" fill="#000"/>
<line x1="102.80000000000001" y1="360.9" x2="102.80000000000001" y2="365.7" stroke="#444" stroke-width="1.1"/>
<line x1="100.50000000000001" y1="360.9" x2="105.10000000000001" y2="360.9" stroke="#444" stroke-width="1.0"/>
<rect x="123.5" y="369.1" width="7.8" height="65.6" fill="#000"/>
<line x1="127.4" y1="367.1" x2="127.4" y2="369.1" stroke="#444" stroke-width="1.1"/>
<line x1="125.10000000000001" y1="367.1" x2="129.70000000000002" y2="367.1" stroke="#444" stroke-width="1.0"/>
<rect x="149" y="358.1" width="7.8" height="76.6" fill="#000"/>
<line x1="152.9" y1="353.3" x2="152.9" y2="358.1" stroke="#444" stroke-width="1.1"/>
<line x1="150.6" y1="353.3" x2="155.20000000000002" y2="353.3" stroke="#444" stroke-width="1.0"/>
<rect x="173.3" y="391.2" width="7.8" height="43.5" fill="#000"/>
<line x1="177.20000000000002" y1="383.6" x2="177.20000000000002" y2="391.2" stroke="#444" stroke-width="1.1"/>
<line x1="174.9" y1="383.6" x2="179.50000000000003" y2="383.6" stroke="#444" stroke-width="1.0"/>
<rect x="198" y="365.0" width="7.8" height="69.7" fill="#000"/>
<line x1="201.9" y1="354.7" x2="201.9" y2="365.0" stroke="#444" stroke-width="1.1"/>
<line x1="199.6" y1="354.7" x2="204.20000000000002" y2="354.7" stroke="#444" stroke-width="1.0"/>
<rect x="222.8" y="398.8" width="7.8" height="35.9" fill="#000"/>
<line x1="226.70000000000002" y1="396.8" x2="226.70000000000002" y2="398.8" stroke="#444" stroke-width="1.1"/>
<line x1="224.4" y1="396.8" x2="229.00000000000003" y2="396.8" stroke="#444" stroke-width="1.0"/>
<rect x="248" y="399.5" width="7.8" height="35.2" fill="#000"/>
<line x1="251.9" y1="391.9" x2="251.9" y2="399.5" stroke="#444" stroke-width="1.1"/>
<line x1="249.6" y1="391.9" x2="254.20000000000002" y2="391.9" stroke="#444" stroke-width="1.0"/>
<polyline points="173.2,380.4 173.2,350" fill="none" stroke="#000" stroke-width="1.4"/>
<line x1="162.5" y1="350" x2="246" y2="350" stroke="#000" stroke-width="1.4"/>
<line x1="227" y1="350" x2="227" y2="380.4" stroke="#000" stroke-width="1.4"/>
<line x1="245.6" y1="350" x2="245.6" y2="380.4" stroke="#000" stroke-width="1.4"/>
<polyline points="183,380.4 183,361.9 196.7,361.9" fill="none" stroke="#000" stroke-width="1.4"/>
<text x="204.2" y="350.4" font-size="10.5" font-weight="normal" letter-spacing="0.9" stroke="#000" stroke-width="0.15" text-anchor="middle">**</text>
<text x="188" y="361.8" font-size="10.5" font-weight="normal" stroke="#000" stroke-width="0.15" text-anchor="middle">*</text>
<text x="83.6" y="450.8" font-size="10" font-weight="bold" text-anchor="end" fill="#000" stroke="#000" stroke-width="0.25" textLength="33.3" lengthAdjust="spacingAndGlyphs" >Pre-Axi</text>
<text x="81.1" y="465.0" font-size="10" font-weight="bold" text-anchor="end" fill="#000" stroke="#000" stroke-width="0.25" textLength="38.6" lengthAdjust="spacingAndGlyphs" >ABT-263</text>
<text x="87.5" y="480.9" font-size="10" font-weight="bold" text-anchor="end" fill="#000" stroke="#000" stroke-width="0.25" textLength="37.9" lengthAdjust="spacingAndGlyphs" >Inhibitor</text>
<rect x="101.9" y="447.3" width="4.2" height="1.3" fill="#222"/>
<rect x="126.5" y="447.3" width="4.2" height="1.3" fill="#222"/>
<text x="152.9" y="450.5" font-size="9.0" font-weight="bold" text-anchor="middle" fill="#000" stroke="#000" stroke-width="0.25" >+</text>
<text x="177.20000000000002" y="450.5" font-size="9.0" font-weight="bold" text-anchor="middle" fill="#000" stroke="#000" stroke-width="0.25" >+</text>
<text x="201.9" y="450.5" font-size="9.0" font-weight="bold" text-anchor="middle" fill="#000" stroke="#000" stroke-width="0.25" >+</text>
<text x="226.70000000000002" y="450.5" font-size="9.0" font-weight="bold" text-anchor="middle" fill="#000" stroke="#000" stroke-width="0.25" >+</text>
<text x="251.9" y="450.5" font-size="9.0" font-weight="bold" text-anchor="middle" fill="#000" stroke="#000" stroke-width="0.25" >+</text>
<rect x="101.9" y="461.9" width="4.2" height="1.3" fill="#222"/>
<text x="127.4" y="465.1" font-size="9.0" font-weight="bold" text-anchor="middle" fill="#000" stroke="#000" stroke-width="0.25" >+</text>
<rect x="152.0" y="461.9" width="4.2" height="1.3" fill="#222"/>
<text x="177.20000000000002" y="465.1" font-size="9.0" font-weight="bold" text-anchor="middle" fill="#000" stroke="#000" stroke-width="0.25" >+</text>
<text x="201.9" y="465.1" font-size="9.0" font-weight="bold" text-anchor="middle" fill="#000" stroke="#000" stroke-width="0.25" >+</text>
<text x="226.70000000000002" y="465.1" font-size="9.0" font-weight="bold" text-anchor="middle" fill="#000" stroke="#000" stroke-width="0.25" >+</text>
<text x="251.9" y="465.1" font-size="9.0" font-weight="bold" text-anchor="middle" fill="#000" stroke="#000" stroke-width="0.25" >+</text>
<rect x="101.9" y="476.9" width="4.2" height="1.3" fill="#555"/>
<rect x="126.5" y="476.9" width="4.2" height="1.3" fill="#555"/>
<rect x="152.0" y="476.9" width="4.2" height="1.3" fill="#555"/>
<rect x="176.3" y="476.9" width="4.2" height="1.3" fill="#555"/>
<text transform="translate(209.9,473.8) rotate(-45)" font-size="10.4" font-weight="bold" stroke="#000" stroke-width="0.15" text-anchor="end">zVAD</text>
<text transform="translate(234.70000000000002,473.8) rotate(-45)" font-size="10.4" font-weight="bold" stroke="#000" stroke-width="0.15" text-anchor="end">Nec-1</text>
<text transform="translate(258.5,473.8) rotate(-45)" font-size="10.4" font-weight="bold" stroke="#000" stroke-width="0.15" text-anchor="end">Fer-1</text>
<line x1="368.75" y1="424.3" x2="519" y2="424.3" stroke="#d4d4d4" stroke-width="0.8"/>
<line x1="368.75" y1="410.6" x2="519" y2="410.6" stroke="#d4d4d4" stroke-width="0.8"/>
<line x1="368.75" y1="396.9" x2="519" y2="396.9" stroke="#d4d4d4" stroke-width="0.8"/>
<line x1="368.75" y1="383.2" x2="519" y2="383.2" stroke="#d4d4d4" stroke-width="0.8"/>
<line x1="368.75" y1="369.5" x2="519" y2="369.5" stroke="#d4d4d4" stroke-width="0.8"/>
<line x1="368.75" y1="355.8" x2="519" y2="355.8" stroke="#d4d4d4" stroke-width="0.8"/>
<line x1="368.75" y1="342.1" x2="519" y2="342.1" stroke="#d4d4d4" stroke-width="0.8"/>
<line x1="368.75" y1="341.8" x2="368.75" y2="438.0" stroke="#111" stroke-width="1"/>
<line x1="366" y1="438.0" x2="518.5" y2="438.0" stroke="#111" stroke-width="1.1"/>
<line x1="366" y1="438.0" x2="368.75" y2="438.0" stroke="#111" stroke-width="0.8"/>
<text x="361.2" y="440.9" font-size="8.6" font-weight="bold" text-anchor="end" fill="#000" stroke="#000" stroke-width="0.25" textLength="4.5" lengthAdjust="spacingAndGlyphs" >0</text>
<line x1="366" y1="424.3" x2="368.75" y2="424.3" stroke="#111" stroke-width="0.8"/>
<text x="361.2" y="427.2" font-size="8.6" font-weight="bold" text-anchor="end" fill="#000" stroke="#000" stroke-width="0.25" textLength="8.9" lengthAdjust="spacingAndGlyphs" >20</text>
<line x1="366" y1="410.6" x2="368.75" y2="410.6" stroke="#111" stroke-width="0.8"/>
<text x="361.2" y="413.5" font-size="8.6" font-weight="bold" text-anchor="end" fill="#000" stroke="#000" stroke-width="0.25" textLength="8.9" lengthAdjust="spacingAndGlyphs" >40</text>
<line x1="366" y1="396.9" x2="368.75" y2="396.9" stroke="#111" stroke-width="0.8"/>
<text x="361.2" y="399.79999999999995" font-size="8.6" font-weight="bold" text-anchor="end" fill="#000" stroke="#000" stroke-width="0.25" textLength="8.9" lengthAdjust="spacingAndGlyphs" >60</text>
<line x1="366" y1="383.2" x2="368.75" y2="383.2" stroke="#111" stroke-width="0.8"/>
<text x="361.2" y="386.09999999999997" font-size="8.6" font-weight="bold" text-anchor="end" fill="#000" stroke="#000" stroke-width="0.25" textLength="8.9" lengthAdjust="spacingAndGlyphs" >80</text>
<line x1="366" y1="369.5" x2="368.75" y2="369.5" stroke="#111" stroke-width="0.8"/>
<text x="361.2" y="372.4" font-size="8.6" font-weight="bold" text-anchor="end" fill="#000" stroke="#000" stroke-width="0.25" textLength="13.2" lengthAdjust="spacingAndGlyphs" >100</text>
<line x1="366" y1="355.8" x2="368.75" y2="355.8" stroke="#111" stroke-width="0.8"/>
<text x="361.2" y="358.7" font-size="8.6" font-weight="bold" text-anchor="end" fill="#000" stroke="#000" stroke-width="0.25" textLength="13.2" lengthAdjust="spacingAndGlyphs" >120</text>
<line x1="366" y1="342.1" x2="368.75" y2="342.1" stroke="#111" stroke-width="0.8"/>
<text x="361.2" y="345.0" font-size="8.6" font-weight="bold" text-anchor="end" fill="#000" stroke="#000" stroke-width="0.25" textLength="13.2" lengthAdjust="spacingAndGlyphs" >140</text>
<text transform="translate(325.8,420.0) rotate(-90)" font-size="9.4" font-weight="bold" text-anchor="start" fill="#000" stroke="#000" stroke-width="0.25" textLength="67" lengthAdjust="spacingAndGlyphs">Relative viable</text>
<text transform="translate(337.3,420.0) rotate(-90)" font-size="9.6" font-weight="bold" text-anchor="start" fill="#000" stroke="#000" stroke-width="0.25" textLength="38.3" lengthAdjust="spacingAndGlyphs">cells (%)</text>
<rect x="368.4" y="329.3" width="5" height="4.8" fill="#fff" stroke="#000" stroke-width="1.2"/>
<text x="377.3" y="334.2" font-size="9.6" font-weight="bold" text-anchor="start" fill="#000" stroke="#000" stroke-width="0.25" textLength="45.8" lengthAdjust="spacingAndGlyphs" >Pre-Axi (-)</text>
<rect x="445.8" y="328.4" width="5.6" height="6" fill="#000"/>
<text x="455.6" y="334.2" font-size="9.6" font-weight="bold" text-anchor="start" fill="#000" stroke="#000" stroke-width="0.25" textLength="48.5" lengthAdjust="spacingAndGlyphs" >Pre-Axi (+)</text>
<line x1="382.1" y1="357.9" x2="382.1" y2="369.5" stroke="#444" stroke-width="1.1"/>
<line x1="379.8" y1="357.9" x2="384.40000000000003" y2="357.9" stroke="#444" stroke-width="1.0"/>
<rect x="377.95" y="369.5" width="8.3" height="68.5" fill="#fff" stroke="#000" stroke-width="1.2"/>
<line x1="392.90000000000003" y1="360.6" x2="392.90000000000003" y2="369.5" stroke="#444" stroke-width="1.1"/>
<line x1="390.6" y1="360.6" x2="395.20000000000005" y2="360.6" stroke="#444" stroke-width="1.0"/>
<rect x="388.3" y="369.5" width="9.2" height="68.5" fill="#000"/>
<line x1="419.6" y1="357.9" x2="419.6" y2="367.4" stroke="#444" stroke-width="1.1"/>
<line x1="417.3" y1="357.9" x2="421.90000000000003" y2="357.9" stroke="#444" stroke-width="1.0"/>
<rect x="415.45" y="367.4" width="8.3" height="70.6" fill="#fff" stroke="#000" stroke-width="1.2"/>
<line x1="430.40000000000003" y1="385.9" x2="430.40000000000003" y2="389.4" stroke="#444" stroke-width="1.1"/>
<line x1="428.1" y1="385.9" x2="432.70000000000005" y2="385.9" stroke="#444" stroke-width="1.0"/>
<rect x="425.8" y="389.4" width="9.2" height="48.6" fill="#000"/>
<line x1="457.6" y1="355.1" x2="457.6" y2="366.1" stroke="#444" stroke-width="1.1"/>
<line x1="455.3" y1="355.1" x2="459.90000000000003" y2="355.1" stroke="#444" stroke-width="1.0"/>
<rect x="453.45" y="366.1" width="8.3" height="71.9" fill="#fff" stroke="#000" stroke-width="1.2"/>
<line x1="467.6" y1="364.7" x2="467.6" y2="371.6" stroke="#444" stroke-width="1.1"/>
<line x1="465.3" y1="364.7" x2="469.90000000000003" y2="364.7" stroke="#444" stroke-width="1.0"/>
<rect x="463" y="371.6" width="9.2" height="66.4" fill="#000"/>
<line x1="494.6" y1="357.2" x2="494.6" y2="368.1" stroke="#444" stroke-width="1.1"/>
<line x1="492.3" y1="357.2" x2="496.90000000000003" y2="357.2" stroke="#444" stroke-width="1.0"/>
<rect x="490.45" y="368.1" width="8.3" height="69.9" fill="#fff" stroke="#000" stroke-width="1.2"/>
<line x1="505.40000000000003" y1="386.6" x2="505.40000000000003" y2="390.7" stroke="#444" stroke-width="1.1"/>
<line x1="503.1" y1="386.6" x2="507.70000000000005" y2="386.6" stroke="#444" stroke-width="1.0"/>
<rect x="500.8" y="390.7" width="9.2" height="47.3" fill="#000"/>
<text x="435.1" y="385.6" font-size="10.5" font-weight="normal" letter-spacing="0.9" stroke="#000" stroke-width="0.15" text-anchor="middle">**</text>
<text x="511.7" y="388.2" font-size="10.5" font-weight="normal" letter-spacing="0.9" stroke="#000" stroke-width="0.15" text-anchor="middle">**</text>
<text transform="translate(390.3,450.4) rotate(-45)" font-size="9.9" font-weight="bold" stroke="#000" stroke-width="0.15" text-anchor="end">None</text>
<text transform="translate(428.1,450.4) rotate(-45)" font-size="9.9" font-weight="bold" stroke="#000" stroke-width="0.15" text-anchor="end">ABT-263</text>
<text transform="translate(465.3,450.4) rotate(-45)" font-size="9.9" font-weight="bold" stroke="#000" stroke-width="0.15" text-anchor="end">ABT-199</text>
<text transform="translate(503.0,450.4) rotate(-45)" font-size="9.9" font-weight="bold" stroke="#000" stroke-width="0.15" text-anchor="end">A-1331852</text>
</svg></body></html>
